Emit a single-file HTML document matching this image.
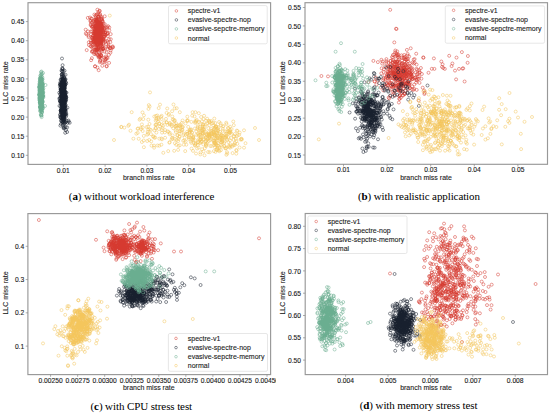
<!DOCTYPE html>
<html><head><meta charset="utf-8"><style>
html,body{margin:0;padding:0;background:#fff;width:550px;height:416px;overflow:hidden}
svg{display:block}
text{font-family:"Liberation Sans",sans-serif;fill:#1a1a1a}
.tl{font-size:6.7px;stroke:#1a1a1a;stroke-width:0.12px}
.al{font-size:7px;stroke:#1a1a1a;stroke-width:0.1px}
.lg{font-size:7px;stroke:#1a1a1a;stroke-width:0.1px}
.cap{font-family:"Liberation Serif",serif;font-size:11px;letter-spacing:-0.1px;fill:#000}
.tk{stroke:#888;stroke-width:0.7}
path{fill:none;stroke:none}
</style></head><body>
<svg width="550" height="416" viewBox="0 0 550 416"><defs><marker id="mr" markerWidth="6" markerHeight="6" refX="3" refY="3" markerUnits="userSpaceOnUse"><circle cx="3" cy="3" r="1.50" fill="none" stroke="#d63a2f" stroke-width="0.70" stroke-opacity="0.72"/></marker><marker id="mk" markerWidth="6" markerHeight="6" refX="3" refY="3" markerUnits="userSpaceOnUse"><circle cx="3" cy="3" r="1.50" fill="none" stroke="#18202e" stroke-width="0.70" stroke-opacity="0.72"/></marker><marker id="mg" markerWidth="6" markerHeight="6" refX="3" refY="3" markerUnits="userSpaceOnUse"><circle cx="3" cy="3" r="1.50" fill="none" stroke="#6aae8f" stroke-width="0.70" stroke-opacity="0.72"/></marker><marker id="my" markerWidth="6" markerHeight="6" refX="3" refY="3" markerUnits="userSpaceOnUse"><circle cx="3" cy="3" r="1.50" fill="none" stroke="#f4c65c" stroke-width="0.70" stroke-opacity="0.72"/></marker></defs>
<rect x="28.00" y="2.70" width="242.60" height="161.70" fill="none" stroke="#989898" stroke-width="1.15"/>
<path d="M98.5 37.0 97.8 25.1 97.4 24.1 98.7 47.4 97.3 27.8 99.7 37.6 98.8 24.7 98.4 41.0 95.1 29.4 93.7 21.1 93.9 31.6 95.3 36.7 98.9 32.1 98.4 35.1 94.7 29.2 96.1 25.9 101.2 25.9 98.4 42.8 97.0 32.9 98.8 34.6 95.4 34.8 101.9 18.5 100.6 35.2 96.9 54.0 100.4 22.0 98.7 39.8 98.0 40.8 98.3 40.7 102.1 27.2 99.0 29.4 98.8 22.1 97.1 32.0 100.7 45.5 95.2 26.1 100.1 14.1 97.3 33.0 101.6 40.9 97.7 30.3 97.9 49.2 97.4 31.0 99.4 32.8 98.0 22.9 98.5 29.6 101.4 40.5 98.4 40.7 97.7 44.5 98.5 39.8 95.3 37.5 97.7 25.0 98.9 56.4 96.4 27.8 99.0 38.9 98.1 31.9 100.3 39.2 95.9 33.2 98.6 23.5 99.1 25.4 100.9 35.9 98.7 28.1 98.2 14.0 95.7 37.6 93.2 42.5 94.1 41.6 96.4 41.8 98.8 18.6 101.6 48.4 98.3 31.3 98.1 24.2 101.2 28.6 98.4 26.1 96.9 21.2 101.6 32.5 100.9 34.1 96.8 30.7 97.1 34.1 97.6 31.0 95.1 25.9 102.6 27.3 95.9 37.4 102.0 19.5 98.0 27.7 94.1 41.3 98.4 34.7 96.6 38.5 97.2 32.6 95.7 21.8 101.8 28.9 99.2 33.7 97.4 28.9 100.1 31.0 98.1 34.2 101.4 40.8 99.5 28.4 95.0 43.5 100.9 32.6 99.9 41.8 100.6 43.2 97.4 49.1 95.4 42.6 99.7 42.7 103.2 48.8 95.6 17.1 100.5 23.8 98.5 42.4 99.1 34.4 97.9 34.4 96.3 18.9 98.1 24.3 94.4 39.1 98.3 38.1 96.0 27.4 96.0 25.1 99.0 26.2 99.4 37.4 100.7 33.1 98.5 19.5 97.3 41.4 98.3 34.8 97.8 45.5 98.4 12.0 96.8 14.3 101.8 34.5 95.6 24.6 101.3 35.6 98.6 33.5 98.6 42.1 99.9 36.2 95.9 39.1 96.8 44.9 95.3 32.6 98.5 20.8 102.8 48.6 97.3 41.7 99.1 33.4 98.7 23.2 97.8 32.2 101.5 37.3 98.5 49.3 97.1 30.1 100.9 43.2 100.2 35.1 99.0 31.5 98.0 34.5 102.3 39.6 98.4 28.2 96.9 50.0 99.8 34.7 97.6 22.9 98.3 42.7 97.5 31.7 97.9 35.1 94.5 31.6 96.4 42.8 96.6 39.8 102.3 30.9 97.0 35.9 98.5 24.1 99.7 54.2 97.9 32.0 95.9 37.2 95.4 22.9 101.7 24.9 101.2 49.2 99.1 39.5 103.4 32.0 97.0 20.5 98.6 48.8 100.9 24.6 96.4 29.0 99.2 31.9 99.0 37.0 97.8 33.6 99.0 33.2 99.8 52.7 100.0 34.6 94.3 37.9 100.6 41.1 98.1 16.9 97.6 27.2 100.1 56.6 99.0 26.2 95.6 33.4 98.1 22.5 98.8 22.5 101.3 44.6 101.2 29.3 99.8 32.7 97.5 30.6 95.3 19.6 100.5 32.1 99.0 44.0 94.2 26.2 98.9 37.9 97.6 44.3 99.0 21.9 96.2 42.1 99.7 15.0 101.9 40.0 101.9 30.2 97.8 22.7 102.5 27.5 98.9 17.3 97.5 43.8 95.4 44.7 99.3 23.6 97.2 29.4 98.4 28.6 96.4 31.0 95.9 21.1 98.4 42.8 94.7 34.0 96.9 24.2 100.6 28.8 102.2 26.2 99.5 31.7 96.6 39.9 98.1 40.0 98.4 23.1 98.2 34.5 100.9 24.9 98.4 16.8 100.1 23.2 94.0 33.4 101.3 18.8 95.8 26.6 95.7 37.8 96.5 26.8 100.0 26.4 99.6 24.3 95.5 15.6 103.2 30.8 99.1 33.7 98.9 34.5 103.3 23.6 94.6 23.9 95.2 41.5 100.6 24.4 95.0 30.5 99.8 23.2 101.1 23.2 97.8 18.9 96.1 47.9 100.6 30.0 96.3 15.1 97.5 33.7 98.3 33.1 95.7 33.3 98.4 46.9 103.2 32.6 96.6 33.4 91.1 60.2 102.3 65.8 104.2 62.3 97.4 49.4 106.6 66.0 101.7 51.5 107.3 33.4 101.7 28.6 94.5 29.8 98.0 41.8 102.0 20.9 103.8 36.5 98.4 47.6 101.7 17.1 86.7 50.1 101.5 39.2 108.1 26.2 100.1 61.1 97.7 33.6 99.8 33.9 109.3 30.4 104.8 24.1 103.5 40.0 91.9 31.4 109.3 27.4 91.9 58.2 99.8 62.2 101.2 28.1 98.6 57.4 105.3 42.0 99.3 38.5 95.1 66.2 99.0 23.9 95.8 49.3 103.3 39.4 94.5 38.9 87.8 17.9 104.3 34.9 101.5 58.1 103.3 41.7 96.6 49.7 101.7 28.7 99.5 37.8 85.9 33.3 97.1 33.2 88.0 31.4 98.7 41.4 91.4 46.5 90.9 34.2 107.7 33.0 95.6 54.2 96.4 34.9 100.5 55.4 92.3 22.4 93.3 26.2 101.0 28.0 99.8 46.0 94.1 40.3 109.9 48.1 94.8 37.7 92.9 41.9 104.7 30.3 97.6 55.3 95.7 41.6 92.2 26.2 96.3 31.8 95.3 36.5 103.3 44.0 112.4 47.3 108.4 46.9 102.9 21.3 98.2 38.8 97.4 9.7 104.7 36.5 96.2 35.5 97.5 45.2 90.7 24.4 100.9 42.6 96.6 31.3 93.6 37.4 106.7 27.8 108.9 54.9 96.1 49.9 90.6 31.6 96.9 32.2 99.6 10.7 102.2 21.4 94.7 32.9 91.5 18.6 92.5 37.7 102.8 49.0 92.5 27.0 93.0 44.3 95.8 28.1 101.2 55.0 101.2 55.3 99.9 57.3 107.1 41.2 108.4 45.3 99.6 27.4 97.1 50.2 90.5 46.2 101.3 44.6 103.2 30.8 103.4 32.2 104.7 16.3 103.5 38.2 104.2 28.9 93.6 28.5 97.2 25.3 106.7 66.4 94.4 14.6 106.6 57.8 104.3 57.7 93.4 35.8 90.0 17.5 105.4 32.8 94.8 49.7 110.7 50.5 91.1 42.6 107.9 36.1 94.0 52.4 99.9 25.0 96.5 28.7 100.9 42.1 106.5 52.2 88.8 42.3 104.8 48.2 105.7 34.6 92.8 50.9 105.7 32.1 97.0 20.0 90.4 21.2 96.7 44.4 91.3 22.8 103.4 40.4 93.4 41.6 100.3 60.0 96.0 53.0 94.2 54.0 94.0 33.4 111.3 48.4 101.3 29.5 103.8 25.2 106.3 59.1 95.3 30.1 100.1 40.6 92.6 45.8 85.7 29.7 96.4 35.4 101.0 23.6 102.8 38.7 94.8 19.7 91.3 42.5 92.7 38.9 105.9 56.5 109.1 39.2 91.9 51.8 101.0 56.2 99.1 56.6 104.5 51.7 102.3 46.6 100.5 43.6 105.4 35.0 110.3 42.2 105.4 40.8 97.4 67.6 97.0 21.7 94.4 34.1 113.0 47.4 105.1 28.1 101.3 50.0 110.7 34.1 102.9 45.5 92.4 37.6 102.9 48.7 96.1 20.6 108.6 46.8 105.6 61.7 95.6 50.1 97.4 38.6 98.4 39.8 106.2 44.1 98.0 35.8 101.2 28.3 95.7 38.2 95.3 37.2 95.0 66.5 107.6 49.0 98.7 70.2 101.1 39.5 101.0 44.9 108.2 42.7 103.5 27.6 110.8 39.2 98.6 52.7 107.2 27.2 96.7 20.0 99.9 38.9 96.7 29.8 96.5 28.9 102.4 62.1 86.5 34.3 96.3 45.9 92.8 36.0 92.2 47.5 99.6 38.0 101.4 37.4 88.9 45.0 100.9 38.5 105.4 58.9 91.9 26.9 109.1 62.9 94.2 22.1 94.9 31.8 88.7 37.1 90.7 20.6 105.0 32.5 98.5 48.6 104.3 37.0 99.3 28.7 110.4 52.7 91.8 37.7 103.6 48.1 95.5 37.6 90.7 40.8 99.6 11.2 94.6 40.1 90.8 25.4 96.6 44.0 97.9 27.3 104.1 34.2 95.8 19.9 93.9 47.4 88.5 35.6 103.7 36.3 100.6 25.0 107.5 58.0 100.5 16.2 92.2 51.3 110.1 47.7 107.1 34.2 97.8 39.6 101.8 19.7 105.1 60.3 91.5 18.8 101.3 31.7 100.0 33.7 112.7 46.4 94.1 39.8" marker-start="url(#mr)" marker-mid="url(#mr)" marker-end="url(#mr)"/>
<path d="M63.4 104.5 63.7 83.0 64.4 87.2 61.4 89.4 62.8 105.9 63.9 96.7 64.4 98.0 64.3 79.5 60.7 106.7 61.0 93.2 62.9 90.9 62.3 114.4 66.3 97.3 63.0 106.1 65.7 82.1 63.1 94.7 63.8 99.0 64.0 91.7 63.1 88.6 62.0 95.2 62.8 82.3 65.3 95.3 61.0 110.8 61.9 103.4 63.0 100.1 63.2 89.8 63.1 122.4 59.8 97.8 63.6 83.8 61.0 124.0 62.5 123.0 63.8 98.0 63.7 104.9 64.7 102.4 63.2 99.2 65.0 107.2 61.5 89.1 63.5 89.2 62.5 85.1 62.6 102.3 64.4 97.1 66.0 96.0 63.7 90.8 63.3 121.0 61.0 120.8 62.6 106.1 59.3 98.7 62.5 105.5 63.1 82.7 64.4 105.7 63.9 109.6 64.6 96.7 61.0 79.7 65.0 105.9 63.1 91.6 63.0 97.3 62.5 88.3 66.1 99.9 62.1 80.7 61.9 106.0 64.1 94.3 63.1 93.2 61.4 113.3 63.5 128.0 61.9 95.3 64.3 93.9 61.0 85.1 63.1 101.3 62.9 109.5 64.4 101.0 63.0 93.8 63.8 108.5 63.1 102.6 62.5 79.4 61.5 106.6 63.6 116.9 63.1 107.8 64.9 109.4 62.1 94.7 63.2 84.7 63.7 109.8 62.3 121.7 62.6 94.5 62.7 88.1 63.6 97.3 65.4 104.6 63.8 94.2 60.9 95.9 61.8 108.9 63.0 117.8 64.1 107.4 63.3 99.6 63.9 108.5 62.0 103.2 62.6 88.3 60.9 111.9 63.1 100.7 61.7 110.2 63.9 102.0 63.7 96.7 65.3 104.7 63.5 112.6 64.3 102.8 63.5 119.0 63.7 95.9 61.8 92.7 61.5 98.4 63.4 71.4 63.0 105.1 63.2 85.1 64.8 88.3 61.2 83.5 63.0 109.3 64.7 99.7 61.3 88.8 61.7 94.8 60.4 98.4 63.9 95.2 63.7 85.3 60.9 89.0 64.7 109.9 62.3 112.1 62.5 115.9 63.7 91.4 64.2 87.3 61.6 78.9 63.4 96.3 62.9 91.9 65.1 91.7 62.0 112.6 65.1 101.2 60.5 89.5 63.9 97.2 65.3 79.9 64.0 89.2 64.9 96.1 64.5 88.9 61.0 83.1 62.1 84.2 64.7 113.7 63.4 84.1 62.8 88.4 65.1 100.9 63.7 92.0 60.1 87.4 61.4 101.6 63.1 87.0 62.4 116.6 61.6 85.5 62.7 88.3 62.4 103.6 65.5 74.8 63.0 97.5 62.9 94.7 62.5 109.6 62.3 95.4 63.0 98.3 62.8 109.5 63.0 99.2 62.9 84.5 61.8 83.9 63.3 88.1 61.5 100.0 63.8 75.0 65.5 97.4 62.8 110.3 63.1 89.5 66.2 83.6 62.9 107.6 61.4 95.7 63.6 127.0 61.7 96.4 64.0 98.0 61.3 102.1 63.2 102.6 64.6 109.7 63.6 100.9 61.4 95.3 63.3 92.0 63.1 86.7 62.4 102.0 62.7 112.8 63.6 98.0 62.7 98.6 61.5 105.4 62.0 103.7 63.2 110.7 63.0 109.8 61.7 104.6 62.7 99.4 63.1 108.7 60.1 101.0 60.8 112.1 60.1 84.5 60.6 117.5 61.1 98.4 62.2 74.5 62.5 105.3 62.7 108.8 62.5 97.1 62.4 101.3 65.8 101.5 63.3 89.3 61.9 115.3 61.4 85.6 62.9 91.7 63.5 105.9 61.4 88.9 63.6 117.4 61.7 77.3 64.4 116.0 62.5 69.3 65.1 94.5 64.6 96.5 62.5 91.4 65.1 114.9 59.9 85.3 65.6 92.4 61.0 97.1 62.8 95.8 62.3 93.1 62.3 101.2 61.8 93.4 62.8 113.3 63.5 95.6 63.8 102.1 64.6 103.3 65.6 113.8 62.9 91.8 64.3 103.5 62.9 78.5 60.3 101.4 64.1 107.0 61.1 110.0 62.2 101.9 63.6 87.0 62.1 71.1 61.7 74.5 63.6 97.8 64.3 101.5 62.1 101.3 62.4 104.6 63.5 84.6 63.0 97.7 62.6 108.2 65.5 92.4 62.5 68.9 62.8 91.5 59.9 100.6 63.9 87.8 62.5 84.9 64.1 78.0 62.5 121.4 63.1 102.8 62.8 82.3 63.0 102.1 61.5 101.3 64.8 110.4 60.7 84.8 60.7 110.4 63.9 105.8 61.7 82.4 63.1 98.3 61.8 98.8 63.9 99.9 61.5 70.6 62.6 99.1 62.6 91.6 62.0 105.9 62.9 98.5 61.6 89.2 63.2 84.4 61.2 92.9 64.7 99.4 65.1 95.4 62.6 79.6 62.2 114.9 63.5 106.2 64.0 96.9 62.7 98.5 64.0 102.7 63.7 98.9 61.9 93.7 61.6 109.6 60.0 94.3 66.5 92.7 61.4 96.8 64.9 95.0 63.9 98.2 63.1 90.3 62.3 101.8 63.6 106.7 63.2 79.1 63.8 93.1 62.6 78.5 62.2 87.9 62.9 78.8 63.1 98.6 61.4 89.2 61.8 108.3 59.3 92.7 60.6 91.6 64.2 89.1 63.2 86.4 65.8 108.4 64.6 80.4 61.4 110.5 62.7 93.8 63.5 81.3 64.1 97.2 63.7 88.6 63.7 88.2 64.4 111.1 64.3 103.5 64.2 93.6 63.1 93.5 61.0 90.3 64.0 114.7 62.1 85.7 65.1 86.0 66.0 97.6 61.7 109.3 65.5 79.1 65.3 93.5 65.2 92.2 60.7 103.3 64.3 123.2 65.5 105.7 62.7 90.5 62.6 86.6 62.6 65.2 63.3 96.6 62.3 104.1 61.2 89.5 60.3 115.0 63.9 82.3 62.9 108.9 63.7 101.8 61.8 89.0 63.1 108.5 61.8 83.0 64.7 85.4 64.6 100.0 64.3 118.8 64.0 106.7 61.7 88.3 63.9 116.2 63.5 99.5 64.5 97.2 62.9 83.9 64.4 83.6 63.7 79.3 64.6 84.1 64.2 77.1 62.4 111.7 61.8 97.8 62.3 68.1 63.4 102.4 61.4 104.2 61.8 84.5 63.0 88.5 64.1 109.4 63.8 91.0 63.6 111.2 62.5 83.7 61.7 100.9 63.3 79.7 65.5 110.5 64.2 82.2 62.4 90.2 62.4 82.9 63.6 99.9 63.5 90.7 64.9 99.3 62.9 109.1 62.6 93.9 62.0 105.3 62.4 89.5 61.9 104.0 62.2 76.1 63.9 88.2 63.5 101.7 64.7 110.1 62.2 94.9 61.1 118.0 63.6 114.4 62.5 71.4 65.2 98.2 63.2 97.7 63.9 103.7 60.7 110.6 62.2 91.2 65.5 108.5 62.5 73.8 63.2 103.7 62.9 81.4 61.9 81.3 63.3 107.2 64.5 87.8 63.3 103.9 62.3 95.1 66.1 99.6 64.3 91.6 63.1 75.6 63.0 111.9 66.0 112.0 64.0 97.7 62.1 95.0 63.9 87.2 64.4 84.7 60.4 84.3 60.6 79.8 64.6 94.5 63.3 111.5 64.8 90.7 64.9 101.8 63.0 102.5 60.9 87.2 62.8 104.6 62.5 95.4 64.4 114.6 64.1 112.9 62.4 93.2 63.5 93.2 62.3 117.7 62.7 84.9 63.7 119.9 63.1 112.4 62.4 90.9 62.0 95.2 65.7 82.6 65.4 84.4 62.7 107.4 63.9 100.5 60.6 101.5 62.7 99.4 61.3 91.0 61.1 109.3 62.6 104.0 62.0 90.7 64.9 84.9 60.4 102.1 61.3 91.5 64.3 86.8 64.3 88.5 65.2 113.6 62.3 94.3 61.8 99.5 64.7 78.9 64.3 80.5 61.8 74.7 66.1 97.7 63.4 88.5 64.5 70.7 63.0 124.6 62.4 97.2 64.0 86.9 63.0 109.0 63.3 101.6 62.5 100.9 63.1 115.2 64.1 94.0 59.5 105.9 64.1 85.5 60.1 82.7 64.3 83.7 62.3 99.8 64.8 96.8 62.9 90.1 65.4 110.3 61.6 120.7 65.4 122.5 61.7 119.5 60.4 125.6 62.1 118.5 63.5 116.7 62.0 109.6 68.7 121.7 65.2 132.8 64.3 123.5 64.6 127.3 65.8 122.1 64.0 121.9 67.4 107.7 64.3 117.7 63.9 108.3 66.3 115.1 64.0 117.2 60.6 117.5 60.2 114.5 63.8 120.2 64.7 119.4 69.7 122.8 61.6 116.5 63.0 119.1 63.1 115.1 68.5 120.5 63.8 118.7 64.1 128.6 65.7 126.9 67.1 132.0 64.7 109.9 66.0 116.6 60.3 116.5 67.1 127.4 66.3 113.9 64.4 111.5 67.7 122.9 66.7 120.8 64.4 121.3 62.0 58.5 66.0 130.0" marker-start="url(#mk)" marker-mid="url(#mk)" marker-end="url(#mk)"/>
<path d="M40.9 86.1 41.2 95.9 42.2 102.8 41.4 97.5 41.4 96.3 41.1 98.2 42.3 84.8 41.6 103.4 40.9 77.1 40.9 83.8 41.9 87.1 43.0 96.6 40.5 90.4 40.2 98.9 42.7 93.2 42.2 86.3 41.6 117.1 39.9 106.9 42.4 77.4 39.9 86.0 42.2 91.2 41.1 102.0 41.4 97.4 41.0 105.9 40.5 111.1 41.0 87.6 41.9 99.5 39.4 97.3 40.0 87.3 42.0 87.0 41.6 91.6 43.1 94.3 40.2 84.7 40.4 96.4 41.3 104.4 41.4 96.4 41.6 93.9 41.5 102.6 42.0 90.0 39.6 87.4 41.5 71.5 40.8 99.4 40.7 84.5 42.9 108.2 41.0 107.6 42.5 84.3 41.0 84.6 41.3 82.6 41.2 105.3 41.5 92.5 42.7 86.5 42.2 92.1 41.5 95.3 41.4 94.5 40.5 89.6 41.7 93.9 40.1 88.3 40.6 94.4 41.4 95.8 40.6 95.1 41.2 79.2 40.3 83.4 41.8 83.4 41.5 90.2 40.1 79.8 41.7 98.4 42.0 112.2 41.5 97.4 41.1 95.7 40.9 86.2 41.5 98.9 41.4 85.5 41.0 90.2 40.2 94.2 40.8 89.3 41.9 84.5 41.6 88.7 41.6 95.2 41.4 85.2 40.5 86.4 41.4 101.6 42.2 89.7 41.3 79.1 39.1 86.2 40.6 79.7 39.5 99.5 40.4 78.5 43.4 96.0 40.9 100.8 40.5 109.4 39.7 81.9 41.1 87.1 42.5 79.1 40.5 96.5 41.7 103.7 41.5 115.1 40.7 95.9 42.0 91.2 40.9 89.8 40.6 83.5 40.6 79.5 41.5 79.1 42.2 92.1 40.6 105.7 41.3 99.4 40.5 104.2 40.4 95.1 39.5 87.9 41.6 89.8 40.7 101.5 41.1 105.8 41.6 79.4 39.9 102.3 40.1 88.0 41.7 90.9 41.6 85.8 41.4 104.2 41.5 73.2 41.8 94.5 40.3 107.2 40.6 108.9 41.1 81.4 41.2 97.1 41.7 104.0 40.3 98.6 41.8 91.4 40.3 84.9 41.9 101.5 40.4 81.3 42.3 79.3 41.3 86.4 39.5 95.1 41.0 107.6 43.3 92.2 42.1 103.9 40.7 85.8 42.7 90.5 41.1 91.2 41.0 88.3 41.9 105.8 40.8 80.9 41.2 79.9 40.5 105.6 43.3 97.5 40.1 101.3 39.0 87.4 42.6 101.0 39.8 78.2 42.0 93.5 40.6 97.9 40.6 75.8 41.9 87.8 40.2 81.4 41.4 86.4 41.7 91.4 42.2 90.3 40.5 75.4 40.1 100.8 40.2 97.2 41.6 87.6 41.2 78.8 40.9 102.5 42.7 92.4 40.9 98.3 42.2 98.6 40.4 97.3 42.1 87.2 39.9 98.8 41.5 103.1 41.2 87.9 40.7 84.3 40.3 88.7 40.7 104.5 40.0 93.6 40.6 108.1 41.4 90.5 41.9 94.7 40.7 108.5 41.8 110.4 42.2 101.4 41.3 83.8 41.8 94.7 41.8 94.0 40.5 84.6 41.8 106.3 40.9 98.4 42.5 86.2 40.8 83.5 42.3 96.6 40.7 78.5 41.0 103.5 40.9 90.1 41.8 82.5 41.2 99.8 40.4 86.3 41.4 93.2 40.9 96.1 41.4 85.4 40.5 98.4 42.2 106.9 40.4 104.5 41.9 93.9 41.6 102.0 42.9 84.2 41.7 92.9 41.0 105.0 41.9 84.6 40.9 96.3 39.8 102.3 41.1 95.7 41.5 111.2 41.2 90.8 42.8 89.5 40.7 81.2 42.2 96.8 41.6 95.8 41.0 86.8 40.4 98.3 41.3 109.6 40.5 89.6 40.2 107.2 40.0 101.5 42.5 92.9 41.9 74.2 40.8 78.7 41.3 94.3 40.5 103.1 41.5 89.3 40.7 80.4 41.0 114.2 40.5 98.2 40.7 101.8 41.6 92.1 39.5 89.4 42.3 92.0 41.8 89.7 39.4 98.3 41.5 88.8 40.8 97.0 40.6 97.5 41.0 72.1 41.0 88.7 40.4 98.1 40.7 99.3 42.2 95.6 39.7 87.4 42.0 91.9 40.4 93.4 41.7 96.7 41.8 86.5 40.9 91.9 41.2 74.6 41.0 81.7 42.5 108.9 42.8 101.9 40.7 103.3 41.0 100.1 40.3 88.8 41.6 111.0 41.2 115.5 41.2 85.4 41.1 89.3 41.1 103.4 42.1 96.8 41.2 95.5 41.3 99.7 41.2 99.1 40.0 101.8 42.8 96.1 39.9 107.0 41.0 100.1 41.5 106.0 41.8 95.5 39.3 83.9 41.4 100.7 40.2 88.6 41.6 76.4 39.4 92.2 41.4 89.9 39.0 94.6 39.9 100.5 41.1 96.9 41.8 89.4 42.0 106.1 41.6 106.9 40.6 103.0 41.4 85.1 41.1 89.4 40.7 95.2 42.2 91.4 41.3 80.6 41.3 105.2 42.0 98.9 40.7 85.2 41.1 81.8 40.0 103.3 40.3 111.3 39.8 98.4 40.1 96.0 40.2 94.8 41.0 90.1 41.7 108.6 40.6 102.7 41.3 94.1 40.5 77.4 40.9 92.2 42.9 106.6 40.8 98.9 42.8 96.0 41.4 99.1 39.8 86.7 41.5 99.5 40.3 91.3 41.1 93.0 41.8 95.4 41.3 81.1 40.2 97.4 39.7 96.9 40.6 86.7 41.8 88.0 40.4 88.0 39.2 94.2 41.0 103.3 42.4 84.0 41.1 81.4 40.1 89.6 42.0 102.2 40.6 99.0 40.8 95.3 41.3 100.1 40.6 93.0 41.4 95.1 40.4 110.5 40.7 101.4 41.4 105.8 41.0 82.6 41.3 115.5 41.7 82.6 40.7 106.8 39.8 92.5 40.9 114.7 40.9 106.6 40.5 86.6 42.1 100.1 39.5 100.3 41.8 88.4 41.4 96.7 40.7 88.7 40.5 91.6 39.9 93.8 39.8 94.9 41.1 84.4 42.0 112.5 42.4 81.3 42.4 96.2 41.1 88.6 41.2 107.3 41.7 90.3 40.5 90.3 41.7 111.8 40.2 94.2 40.8 87.1 41.5 99.4 39.8 84.4 42.3 97.2 41.7 89.5 40.8 98.5 40.7 83.7 41.2 102.7 40.2 104.1 41.8 86.1 41.2 93.8 41.8 100.4 39.9 81.5 42.1 95.2 41.6 97.3 42.6 82.8 42.2 86.5 41.9 106.8 39.9 98.0 40.9 91.4 41.2 84.3 40.3 100.4 42.0 88.8 42.2 97.6 40.2 88.7 41.4 85.2 42.7 95.5 41.5 84.5 40.3 86.8 41.4 91.7 40.9 97.1 41.4 108.1 41.0 84.7 41.2 107.9 40.6 94.6 40.8 98.0 41.4 86.6 41.0 103.0 42.2 102.8 42.0 91.1 40.8 102.9 40.1 93.6 39.4 90.6 40.5 82.9 41.7 87.3 40.8 91.8 40.5 107.5 40.7 96.0 39.9 89.8 40.9 91.3 40.6 95.5 42.6 93.0 41.0 90.6 41.7 100.8 40.5 92.8 41.4 95.3 40.4 86.9 41.7 97.1 39.2 95.1 42.4 88.2 41.4 80.6 41.9 83.8 40.0 91.3 43.4 88.5 40.0 98.5 41.4 109.7 40.0 79.4 40.9 97.7 41.5 104.3 39.8 86.5 41.0 102.0 41.6 90.3 40.2 102.4 41.0 109.3 40.0 89.2 40.5 89.9 40.4 89.2 41.1 90.0 41.8 93.4 41.2 107.9 41.5 95.7 41.2 94.8 41.7 86.8 42.2 108.8 42.2 89.6 39.7 90.2 41.3 101.9 41.0 91.4 42.6 88.0 45.5 85.0 45.0 106.0 43.0 73.0" marker-start="url(#mg)" marker-mid="url(#mg)" marker-end="url(#mg)"/>
<path d="M226.7 135.8 221.5 142.6 216.0 126.6 192.1 132.8 213.2 125.4 193.3 140.4 229.0 132.8 199.6 128.8 210.3 146.0 187.1 133.8 204.5 132.8 190.7 131.2 192.9 138.2 212.1 123.4 182.3 129.6 222.4 142.2 202.9 128.9 205.6 124.6 204.0 129.7 208.0 135.8 209.3 138.2 204.4 135.8 228.8 145.9 216.6 149.6 215.1 127.6 181.5 127.5 210.2 140.2 229.7 132.7 197.6 142.7 231.4 133.7 217.1 150.0 216.8 136.5 222.3 138.7 203.4 124.2 209.6 135.4 230.0 126.7 235.9 139.0 231.6 129.1 217.2 148.6 213.3 122.9 205.7 141.1 187.5 121.0 215.3 128.0 222.9 126.5 180.0 126.6 236.8 130.6 211.2 138.9 195.1 145.5 214.3 141.0 207.4 143.1 236.6 136.3 206.8 140.4 237.4 131.0 222.0 135.2 205.7 143.8 197.9 125.4 222.7 137.3 206.9 135.0 219.8 133.8 224.4 141.6 236.6 150.6 226.0 135.9 213.4 131.2 220.9 150.2 188.2 126.9 204.7 126.7 189.8 130.0 233.4 145.3 212.0 137.0 183.2 140.8 218.7 127.1 215.0 135.1 202.6 126.6 200.0 126.8 219.3 140.7 217.0 135.4 204.5 155.3 179.8 145.3 217.5 137.8 202.8 133.9 191.3 121.9 209.6 121.0 225.8 148.3 216.1 139.1 213.4 140.8 224.2 145.9 241.9 139.5 226.2 122.7 209.3 125.1 220.8 125.3 209.6 136.8 214.9 147.2 234.8 134.0 202.1 149.2 207.0 123.5 189.1 135.4 227.0 152.1 208.7 132.1 239.2 134.8 236.4 141.0 215.6 134.9 216.7 132.8 200.1 134.5 200.6 138.7 213.1 134.4 208.2 134.3 241.2 139.1 201.5 133.1 222.9 135.8 209.0 134.1 214.4 140.7 219.1 122.0 225.2 148.3 233.7 139.9 231.1 138.0 209.5 122.1 198.3 130.1 227.2 153.6 203.6 139.6 216.3 129.9 182.3 127.2 187.2 131.7 209.2 134.8 208.7 141.0 195.7 143.7 183.2 134.9 218.2 129.8 184.5 140.4 200.1 143.1 224.6 137.7 211.5 146.0 217.9 128.5 214.4 142.1 215.0 138.8 209.0 135.4 195.7 122.0 230.6 132.3 215.3 123.0 214.2 129.2 195.2 144.1 215.8 145.3 190.8 141.4 202.6 126.6 205.6 131.9 203.8 129.1 225.9 137.2 234.0 136.1 217.4 138.1 214.3 135.0 209.7 152.2 200.0 130.6 205.7 141.5 218.3 146.0 188.9 137.2 208.5 133.8 214.3 118.6 216.1 138.4 187.4 133.8 237.6 135.3 221.5 135.4 197.8 127.0 204.8 148.2 225.3 131.3 228.3 136.9 199.9 139.7 196.2 120.8 233.3 121.5 220.6 123.3 211.0 134.8 204.1 115.8 209.7 136.2 196.4 134.8 228.2 131.4 215.9 126.4 218.0 143.2 218.8 150.4 194.9 145.3 202.4 130.2 230.0 140.4 233.8 125.2 216.2 132.3 207.1 118.7 227.3 140.0 195.1 122.9 197.1 148.5 210.0 133.6 219.9 137.6 215.6 144.0 217.2 145.4 191.8 135.7 205.8 137.3 211.1 130.9 205.9 145.1 202.6 124.6 221.7 146.7 207.3 137.7 197.9 133.9 230.3 145.9 214.4 134.6 184.7 137.6 219.6 147.3 245.5 143.2 227.9 128.0 232.0 146.6 234.7 145.1 219.5 151.2 201.0 142.0 230.0 131.3 192.9 139.4 214.1 142.8 222.8 130.9 217.7 147.9 206.2 134.0 193.4 143.0 224.8 146.4 202.9 132.9 194.9 128.5 215.0 143.3 214.2 145.1 215.6 126.7 236.3 150.0 200.5 152.4 220.1 139.1 185.7 141.5 208.3 128.2 237.3 143.8 191.2 129.4 226.4 154.8 179.2 136.8 206.1 120.7 209.7 122.4 203.6 151.4 221.0 145.2 222.4 141.4 228.6 128.0 206.5 144.6 200.5 132.3 232.6 153.1 202.5 129.1 222.3 140.7 201.4 141.9 221.8 138.9 226.2 147.9 200.7 139.4 213.9 132.3 217.0 140.1 211.8 132.9 226.5 124.0 226.4 138.7 198.3 142.2 202.6 132.9 175.6 130.3 216.3 144.0 208.0 139.1 220.0 131.9 200.3 154.4 198.6 147.6 213.9 151.1 202.1 141.3 218.3 135.9 217.9 130.8 211.4 133.7 225.4 137.7 189.6 132.1 211.1 129.0 234.9 143.1 226.8 131.6 206.1 146.2 188.9 138.9 214.3 133.0 214.3 127.7 216.5 126.6 191.5 148.6 201.1 117.0 229.0 131.7 228.3 142.0 241.5 138.7 222.8 129.0 215.5 151.9 221.2 139.7 179.8 131.3 191.3 142.9 200.4 139.8 196.0 153.5 193.2 137.1 198.2 142.0 229.4 146.9 179.8 136.7 214.0 133.3 224.1 143.0 193.0 150.9 208.7 120.9 236.3 153.7 233.9 144.4 197.9 145.0 244.0 147.7 239.7 132.6 230.0 147.7 187.8 120.3 200.8 137.3 220.5 136.1 211.8 136.4 214.4 143.1 221.2 137.8 217.2 133.7 226.3 134.0 240.5 139.7 217.5 130.9 207.1 138.6 213.2 131.8 193.3 136.3 215.5 142.9 233.9 136.4 179.2 133.4 181.8 123.0 230.3 144.3 202.0 130.7 211.4 121.1 221.0 135.0 244.0 130.3 229.9 132.7 230.2 129.9 225.3 134.5 199.0 135.0 221.0 142.1 239.6 147.5 179.2 131.2 223.5 126.0 193.0 137.3 208.1 152.0 197.3 128.8 178.1 149.9 158.9 129.0 176.1 125.8 195.1 140.1 189.4 130.4 159.2 123.8 158.7 108.1 175.0 138.9 166.7 122.5 167.7 131.3 174.2 150.8 147.7 131.9 182.3 130.3 161.6 115.8 153.6 136.4 199.3 122.3 177.4 135.4 189.4 132.7 176.7 139.9 140.9 127.7 148.5 108.9 178.1 141.1 160.0 126.5 161.6 125.0 169.8 132.9 156.5 118.4 155.2 137.5 157.5 145.5 161.4 144.7 140.3 118.7 177.4 134.9 163.3 152.8 168.4 132.0 154.1 147.7 185.8 134.5 130.5 130.8 156.4 132.6 187.0 120.6 171.6 139.3 170.3 124.7 143.3 119.1 138.7 138.8 169.0 114.0 166.6 112.9 192.6 112.2 150.9 130.0 158.2 117.7 155.4 124.9 154.5 130.3 161.6 119.0 167.2 108.5 164.8 132.4 175.8 132.0 194.5 116.4 165.1 130.1 155.7 120.7 195.0 121.4 156.1 124.5 161.9 130.0 162.0 132.6 169.6 134.2 196.7 119.9 202.9 125.0 181.2 131.0 160.0 104.6 202.0 121.2 149.2 140.0 168.2 151.1 203.5 138.8 172.1 137.7 137.6 128.8 169.8 122.9 172.1 111.2 186.3 144.7 138.1 128.5 200.4 135.1 143.9 115.3 185.2 151.1 142.7 127.4 149.5 124.0 173.2 128.2 163.0 125.9 190.7 129.7 162.0 139.3 143.8 135.9 188.9 137.3 162.5 128.0 129.0 124.7 172.7 138.9 169.5 123.8 148.1 126.7 169.4 142.7 166.6 122.3 164.1 122.4 131.7 112.2 176.6 127.9 169.6 142.2 143.7 140.5 174.8 120.3 198.8 113.2 141.9 124.4 175.2 126.5 196.3 131.3 142.7 131.0 141.0 129.2 174.3 123.9 171.8 124.6 154.0 145.6 179.0 125.3 149.7 129.4 178.7 138.9 198.4 135.4 191.6 139.4 195.4 112.2 158.2 121.7 192.2 115.7 159.3 145.7 180.4 124.4 176.1 126.0 177.4 125.5 148.2 129.7 137.7 132.9 159.4 138.7 156.6 119.7 174.9 143.2 121.3 127.1 179.8 112.2 147.2 134.7 148.3 119.7 203.5 119.1 142.5 112.4 203.4 144.5 182.9 126.9 183.8 133.6 149.6 106.5 146.5 127.0 158.5 119.0 187.3 116.7 185.5 123.5 168.6 115.1 166.0 118.9 128.3 125.8 165.1 137.8 172.3 116.5 141.9 142.0 199.0 138.9 172.7 135.4 176.7 108.2 147.2 141.0 191.8 132.3 159.4 123.2 154.3 116.5 124.3 127.6 156.3 125.0 203.4 137.1 150.9 134.1 133.4 138.7 171.8 126.1 178.5 145.9 156.0 115.9 212.1 130.8 198.6 121.9 174.3 120.9 179.9 125.6 151.5 145.6 173.5 104.5 161.0 116.9 139.6 119.7 155.7 127.9 148.8 105.1 154.4 137.8 136.3 133.7 176.1 123.3 172.8 119.5 157.3 115.5 176.2 144.8 151.2 141.4 143.9 147.2 153.1 136.6 121.3 126.9 178.4 128.3 183.8 144.7 174.7 108.4 161.4 138.5 148.1 133.7 155.5 128.5 182.6 120.5 173.5 119.6 167.4 124.9 150.0 92.4 109.8 15.6 114.0 140.0 255.0 128.0 259.0 140.0" marker-start="url(#my)" marker-mid="url(#my)" marker-end="url(#my)"/>
<line x1="63.30" y1="164.40" x2="63.30" y2="166.60" class="tk"/>
<text x="63.30" y="172.50" class="tl" text-anchor="middle">0.01</text>
<line x1="105.10" y1="164.40" x2="105.10" y2="166.60" class="tk"/>
<text x="105.10" y="172.50" class="tl" text-anchor="middle">0.02</text>
<line x1="146.90" y1="164.40" x2="146.90" y2="166.60" class="tk"/>
<text x="146.90" y="172.50" class="tl" text-anchor="middle">0.03</text>
<line x1="188.70" y1="164.40" x2="188.70" y2="166.60" class="tk"/>
<text x="188.70" y="172.50" class="tl" text-anchor="middle">0.04</text>
<line x1="230.50" y1="164.40" x2="230.50" y2="166.60" class="tk"/>
<text x="230.50" y="172.50" class="tl" text-anchor="middle">0.05</text>
<line x1="25.80" y1="155.30" x2="28.00" y2="155.30" class="tk"/>
<text x="24.20" y="157.90" class="tl" text-anchor="end">0.10</text>
<line x1="25.80" y1="136.20" x2="28.00" y2="136.20" class="tk"/>
<text x="24.20" y="138.80" class="tl" text-anchor="end">0.15</text>
<line x1="25.80" y1="117.10" x2="28.00" y2="117.10" class="tk"/>
<text x="24.20" y="119.70" class="tl" text-anchor="end">0.20</text>
<line x1="25.80" y1="98.00" x2="28.00" y2="98.00" class="tk"/>
<text x="24.20" y="100.60" class="tl" text-anchor="end">0.25</text>
<line x1="25.80" y1="78.90" x2="28.00" y2="78.90" class="tk"/>
<text x="24.20" y="81.50" class="tl" text-anchor="end">0.30</text>
<line x1="25.80" y1="59.80" x2="28.00" y2="59.80" class="tk"/>
<text x="24.20" y="62.40" class="tl" text-anchor="end">0.35</text>
<line x1="25.80" y1="40.70" x2="28.00" y2="40.70" class="tk"/>
<text x="24.20" y="43.30" class="tl" text-anchor="end">0.40</text>
<line x1="25.80" y1="21.60" x2="28.00" y2="21.60" class="tk"/>
<text x="24.20" y="24.20" class="tl" text-anchor="end">0.45</text>
<rect x="168.50" y="5.60" width="98.70" height="38.20" rx="1.5" fill="#fff" fill-opacity="0.8" stroke="#dcdcdc" stroke-width="0.7"/>
<circle cx="176.40" cy="10.90" r="1.3" fill="none" stroke="#d63a2f" stroke-width="0.6" stroke-opacity="0.8"/>
<text x="187.80" y="13.40" class="lg">spectre-v1</text>
<circle cx="176.40" cy="19.90" r="1.3" fill="none" stroke="#18202e" stroke-width="0.6" stroke-opacity="0.8"/>
<text x="187.80" y="22.40" class="lg">evasive-spectre-nop</text>
<circle cx="176.40" cy="28.90" r="1.3" fill="none" stroke="#6aae8f" stroke-width="0.6" stroke-opacity="0.8"/>
<text x="187.80" y="31.40" class="lg">evasive-sepctre-memory</text>
<circle cx="176.40" cy="38.00" r="1.3" fill="none" stroke="#f4c65c" stroke-width="0.6" stroke-opacity="0.8"/>
<text x="187.80" y="40.50" class="lg">normal</text>
<text x="148.8" y="179.5" class="al" text-anchor="middle">branch miss rate</text>
<text transform="translate(7.9,83) rotate(-90)" class="al" text-anchor="middle">LLC miss rate</text>
<text x="141.6" y="199.5" class="cap" text-anchor="middle">(<tspan font-weight="bold">a</tspan>) without workload interference</text>
<rect x="305.00" y="2.70" width="242.50" height="161.60" fill="none" stroke="#989898" stroke-width="1.15"/>
<path d="M402.8 95.5 393.7 71.8 405.8 86.0 394.1 63.9 391.1 83.3 407.6 53.9 381.4 59.8 386.9 76.2 401.7 92.8 406.7 75.7 410.0 66.3 387.8 72.7 407.9 59.1 407.5 82.9 395.5 74.9 397.4 74.3 406.8 66.8 408.8 83.1 407.6 55.7 383.7 78.6 394.8 66.6 393.2 60.1 397.3 66.6 394.1 77.7 389.6 83.4 388.1 78.1 407.7 74.6 406.2 73.4 384.6 75.4 409.7 69.6 385.1 66.3 402.6 77.0 409.4 80.2 404.2 55.0 419.1 76.4 407.3 71.3 398.5 74.2 413.4 89.9 405.2 93.5 396.4 78.4 395.9 85.8 400.2 83.3 418.7 79.0 397.1 55.0 397.2 51.4 400.6 72.3 415.7 72.5 409.2 86.2 417.8 73.5 406.5 59.9 390.3 70.2 399.7 62.1 396.3 80.3 395.9 72.0 392.2 86.4 415.4 77.6 398.9 89.9 404.1 67.9 388.2 66.9 419.1 70.3 398.1 86.5 397.8 77.4 390.9 60.9 393.5 75.4 394.2 54.3 404.1 72.8 397.5 67.7 395.8 78.6 412.1 86.3 401.7 74.3 402.6 83.1 405.0 70.2 403.9 78.1 406.0 76.6 411.9 77.3 407.7 75.3 395.0 64.2 398.6 79.0 411.0 74.4 395.5 68.5 411.2 76.3 395.6 80.7 388.5 73.8 399.6 72.6 389.9 82.4 414.7 62.8 401.0 80.4 419.7 72.2 391.7 73.0 417.5 76.6 402.3 91.5 407.9 82.4 387.9 77.7 400.4 76.1 393.0 68.8 392.4 73.6 398.0 90.1 405.5 59.4 403.6 88.3 402.5 84.8 399.7 80.8 391.8 80.7 388.0 85.2 404.6 72.8 401.0 78.3 399.8 65.4 401.8 77.6 404.3 93.7 393.6 73.9 404.9 70.2 389.6 67.3 409.3 72.4 405.3 67.5 403.9 67.9 392.7 74.3 400.5 88.3 385.8 77.4 414.1 88.8 396.7 67.0 395.7 76.4 401.7 77.6 405.2 64.2 390.2 61.0 388.3 71.7 404.7 74.7 412.4 68.3 403.0 83.8 406.9 78.7 397.0 61.6 398.7 68.1 406.0 73.3 404.9 58.9 408.5 66.7 386.4 59.1 394.5 84.3 406.2 63.3 400.8 73.1 386.3 62.9 382.2 63.6 391.8 65.4 392.8 84.4 397.0 76.0 406.6 83.5 405.9 69.3 390.4 65.4 395.9 73.6 399.3 84.5 399.1 91.2 409.0 70.3 412.0 79.3 403.5 58.1 421.9 74.0 398.8 84.7 398.3 65.6 405.7 64.8 406.5 76.1 409.8 63.4 410.8 78.0 417.2 69.6 416.1 82.6 406.9 67.7 404.9 81.0 392.8 62.0 393.3 87.4 401.4 83.2 402.5 75.4 401.9 70.2 410.6 76.9 402.0 60.8 402.7 67.8 395.6 83.5 390.5 71.0 405.5 85.7 395.5 76.6 402.5 63.4 405.2 75.6 388.4 66.5 396.5 70.1 399.7 95.3 393.2 74.6 393.3 67.2 392.3 70.9 395.2 76.8 401.8 65.6 416.6 64.6 403.1 95.3 393.8 86.1 412.3 78.6 383.9 85.9 400.8 68.8 411.1 68.2 409.2 69.7 404.6 64.1 396.6 64.8 393.8 75.1 398.5 75.6 411.1 74.1 383.8 69.4 400.7 83.9 409.0 84.2 398.0 80.0 387.5 85.1 403.8 79.3 396.7 74.2 394.2 78.8 388.5 82.1 404.7 94.1 399.7 73.1 401.7 74.5 399.1 63.2 390.4 67.5 397.5 62.3 389.9 70.1 406.4 72.9 405.9 84.0 406.7 70.7 396.5 55.6 394.1 77.9 390.6 86.0 412.4 71.8 408.0 61.2 390.9 69.4 400.1 72.2 392.5 92.1 402.5 77.0 405.9 76.4 398.0 68.4 385.8 86.8 392.0 57.1 393.0 57.8 417.3 79.5 412.2 89.4 404.9 80.1 393.7 72.5 394.8 73.8 393.9 85.5 406.6 73.7 385.5 79.0 407.7 74.2 389.1 77.0 409.1 56.5 404.9 57.0 400.7 90.9 400.8 78.7 397.2 73.6 397.3 70.0 400.2 95.2 401.8 84.9 396.8 61.4 411.5 74.5 393.2 66.6 394.2 67.5 386.7 84.1 403.3 83.8 397.0 77.0 401.4 85.5 407.1 78.2 394.4 61.8 393.1 67.1 395.3 61.6 414.4 78.2 382.6 61.5 388.4 75.0 409.2 65.5 405.4 71.9 409.9 88.2 402.7 81.2 400.0 70.4 390.0 76.0 399.4 70.2 387.2 71.4 383.1 80.1 404.1 69.0 392.9 55.0 390.7 89.4 396.6 89.8 390.2 73.0 395.3 70.8 410.7 48.3 410.3 82.7 401.1 75.0 398.3 82.7 401.8 63.4 402.9 86.0 405.7 74.4 403.6 67.8 395.3 50.5 398.7 86.3 396.2 62.7 412.2 76.1 402.8 79.9 409.8 73.5 390.7 95.7 401.7 64.4 403.3 88.9 383.4 90.4 399.3 98.9 409.3 72.7 416.7 89.9 396.7 76.9 394.6 85.5 383.6 71.9 374.6 81.4 373.4 60.9 404.3 69.7 395.5 62.1 395.2 52.3 405.1 84.0 410.5 73.6 416.2 79.8 412.9 78.9 401.5 64.6 368.4 82.0 399.6 98.7 376.5 84.5 389.3 74.0 390.1 78.4 400.7 84.9 402.9 80.0 416.9 80.5 399.4 89.4 399.7 79.1 397.1 65.9 386.8 83.2 423.4 57.8 411.9 72.9 406.7 59.3 401.5 76.0 418.8 100.6 405.0 69.6 428.5 72.8 400.4 75.4 406.9 82.9 394.0 72.8 424.4 94.0 406.7 77.5 398.3 86.8 394.8 75.7 395.5 66.5 401.7 74.2 394.0 73.4 402.0 68.4 393.1 72.5 409.9 87.9 403.5 70.9 400.8 97.8 412.5 62.5 400.6 67.7 396.7 53.4 401.6 57.4 393.9 93.0 413.6 63.5 388.4 63.0 377.9 62.1 397.9 61.3 410.6 73.6 394.7 95.9 410.0 75.1 424.1 90.5 392.5 78.2 395.8 56.5 424.7 92.8 385.5 80.3 380.9 87.5 400.6 70.6 416.8 74.4 398.0 85.6 397.5 85.1 401.3 84.5 409.0 84.1 388.7 97.6 399.2 96.1 393.8 70.8 398.0 88.6 395.9 79.4 381.7 68.3 404.0 72.9 377.9 80.5 389.2 98.4 398.9 102.5 409.5 80.0 395.3 72.8 406.9 49.9 413.7 59.6 406.9 83.6 404.8 78.3 396.6 76.2 416.4 68.9 407.5 83.4 398.3 77.2 404.0 68.0 431.8 68.8 422.7 87.7 375.7 77.4 414.2 84.5 389.9 77.5 386.2 61.2 398.2 76.6 421.4 78.7 414.6 59.1 386.7 68.1 423.3 57.4 381.3 73.3 416.2 53.7 398.0 57.1 419.5 82.9 404.7 73.6 398.2 75.9 393.0 63.0 387.2 74.3 391.1 85.2 374.6 81.4 407.9 89.5 398.0 55.2 389.5 88.5 397.3 68.9 393.8 73.3 398.3 54.5 393.6 86.9 419.5 72.6 394.6 91.3 398.9 59.3 399.5 82.9 420.9 68.0 408.0 70.0 415.6 77.4 404.4 61.7 397.1 70.0 401.0 71.5 396.6 74.4 404.2 57.6 402.7 75.6 401.5 55.3 399.3 57.9 405.5 90.8 412.1 69.8 394.3 66.9 405.5 65.7 394.3 42.4 390.4 64.2 462.5 68.6 455.0 70.6 451.6 66.1 467.9 56.0 433.9 58.4 467.6 62.8 441.3 61.5 456.1 79.4 449.2 55.8 464.6 81.5 456.5 57.6 444.8 68.9 452.4 63.5 434.4 68.9 442.0 66.9 443.2 68.0 463.2 68.3 461.9 52.1 459.0 68.9 442.6 64.3 390.2 9.8 396.5 29.0 396.0 28.7 321.4 76.0 328.0 76.4" marker-start="url(#mr)" marker-mid="url(#mr)" marker-end="url(#mr)"/>
<path d="M366.2 113.1 380.6 106.7 367.4 103.7 371.1 99.7 371.6 119.9 364.3 102.7 360.0 110.9 362.2 104.6 366.4 104.6 374.0 128.6 356.2 101.7 370.5 101.7 365.7 113.5 377.3 125.0 367.2 112.9 366.8 109.8 361.9 93.1 366.8 121.3 373.5 94.1 367.8 105.5 370.7 101.3 374.4 110.8 372.4 121.2 357.3 107.8 378.0 113.7 375.2 117.2 366.0 114.2 375.3 125.8 377.7 102.4 373.9 99.1 368.2 109.7 372.7 115.7 376.5 107.1 374.0 116.7 369.0 100.0 372.4 115.7 373.7 112.4 367.4 115.6 371.7 119.3 380.3 107.7 374.7 104.8 381.0 105.1 375.3 103.2 362.2 118.8 374.2 105.9 383.4 111.2 378.3 103.5 363.2 111.9 362.9 115.5 356.1 111.6 365.6 101.9 370.2 110.0 366.3 119.6 370.8 116.0 376.9 112.6 374.0 108.7 372.6 117.8 365.7 96.4 361.3 101.4 372.3 111.2 367.2 116.4 373.3 126.5 365.4 116.8 373.2 103.3 369.7 103.0 367.6 115.9 358.8 101.6 364.2 112.1 364.6 114.9 363.9 106.0 372.6 115.7 369.9 111.7 375.0 126.6 366.8 104.4 362.8 128.1 363.6 98.0 370.6 122.6 361.6 109.5 360.4 103.7 378.7 115.3 367.4 112.4 370.7 111.2 361.9 99.1 381.0 106.4 376.1 106.1 376.7 120.2 367.7 131.6 363.4 108.7 363.9 103.4 366.8 102.2 367.0 127.3 358.6 97.8 363.3 106.4 375.0 120.1 371.8 114.5 362.1 110.6 370.2 109.8 364.0 98.2 367.3 104.7 366.1 100.8 377.0 117.8 380.0 108.7 369.3 109.6 369.1 109.5 368.0 92.3 367.4 118.6 357.4 106.6 372.4 125.1 368.5 116.4 379.4 126.5 366.3 105.6 375.1 115.2 365.8 109.2 370.9 110.3 367.5 109.4 360.1 127.7 376.3 128.2 368.2 113.1 372.4 120.7 358.1 113.7 363.0 110.3 365.0 128.2 372.2 112.3 377.3 112.7 364.7 109.4 366.8 112.1 374.0 111.7 368.6 121.9 370.7 121.6 369.8 99.3 362.3 94.5 375.8 117.2 366.2 101.7 371.1 111.0 370.9 104.0 362.4 126.4 363.3 110.8 377.0 95.2 373.2 113.4 368.1 114.5 361.9 88.9 380.2 111.0 374.3 123.8 370.7 116.8 373.2 128.2 371.9 124.9 367.3 107.5 369.5 116.0 372.2 131.7 374.0 113.5 380.8 117.2 371.1 117.2 367.0 100.9 369.8 109.1 363.9 112.3 367.8 106.0 358.5 108.6 379.4 122.5 375.4 112.9 375.3 106.4 366.3 116.7 360.6 111.2 370.8 128.9 364.9 115.5 365.1 106.0 375.8 118.3 370.0 136.4 372.2 100.4 367.8 111.3 378.6 104.8 371.5 122.1 364.2 112.1 357.1 111.0 356.0 106.1 379.2 117.8 369.3 113.6 381.8 119.6 375.2 108.8 366.5 101.4 368.0 105.0 374.9 119.3 368.3 106.6 370.8 118.9 370.0 102.1 367.7 107.2 372.5 94.4 365.7 120.8 370.3 104.1 371.7 115.3 363.8 118.0 373.0 111.4 374.6 101.5 373.6 110.9 363.5 105.3 376.0 107.8 367.0 105.3 364.3 120.7 382.2 127.4 372.0 120.0 367.0 106.8 362.1 125.1 367.0 104.7 365.3 113.3 365.8 111.7 370.0 125.4 361.7 113.8 364.9 107.2 378.6 119.8 366.7 116.5 368.9 123.0 366.2 116.4 367.8 112.0 368.1 105.8 369.7 121.8 365.5 107.7 371.2 105.1 374.2 119.9 355.5 103.4 362.7 119.2 374.6 101.3 365.0 110.6 366.9 118.8 374.9 118.9 375.5 122.4 368.6 107.8 364.7 119.4 374.3 123.0 367.1 108.0 370.6 124.7 371.2 114.7 364.2 115.7 372.3 103.3 379.5 104.9 374.6 111.1 370.0 104.6 365.7 118.5 367.9 108.6 374.3 120.0 370.1 114.6 379.3 112.2 371.4 116.7 360.8 91.8 369.8 120.8 370.3 107.1 365.2 119.5 367.3 96.1 373.1 115.2 371.3 122.7 376.9 118.9 368.1 91.3 370.8 111.0 376.9 126.0 371.9 126.0 368.6 111.7 364.1 108.3 370.3 122.7 364.7 119.3 367.6 112.1 375.0 132.6 376.4 113.0 364.1 110.8 368.9 114.5 363.8 126.2 364.8 118.1 370.3 101.6 369.5 112.4 368.0 119.9 366.3 136.6 375.7 104.3 370.6 113.2 363.3 97.0 378.6 108.3 373.2 119.7 364.0 106.8 362.9 111.5 376.8 123.2 371.5 123.5 368.7 99.1 366.8 105.3 369.6 115.2 379.3 103.6 377.8 125.9 375.1 129.2 360.8 117.8 363.0 134.4 363.2 99.0 375.7 119.3 369.2 113.4 372.7 129.7 364.8 105.8 365.6 110.7 369.1 99.3 370.8 99.8 367.2 109.2 367.6 126.5 378.8 124.4 378.5 110.8 377.4 112.9 370.4 115.0 361.0 104.6 368.1 115.5 368.3 103.4 362.1 111.0 361.9 99.1 368.4 113.7 364.0 93.5 370.7 120.4 366.6 107.9 355.1 118.7 362.4 118.1 365.5 110.0 367.9 93.9 369.7 104.0 367.6 125.5 357.8 108.7 372.0 113.7 371.4 104.9 359.2 97.3 366.5 119.0 369.5 128.0 393.5 109.4 394.8 76.8 378.8 78.8 373.3 105.5 382.2 85.6 374.5 87.1 379.4 110.6 375.7 119.9 383.8 104.0 388.6 76.1 374.4 73.7 374.6 94.4 384.7 90.6 367.3 103.6 373.3 110.8 364.5 82.2 356.0 128.3 359.9 100.8 361.7 121.6 368.2 124.4 366.5 110.2 383.9 113.6 360.7 102.0 373.9 73.0 383.3 104.6 380.9 77.0 377.1 108.0 387.1 88.3 383.0 130.0 369.8 97.5 371.1 79.6 370.6 129.8 363.9 103.5 389.1 105.0 377.7 95.4 373.6 102.7 383.1 99.8 386.1 67.3 384.7 89.4 375.1 95.1 382.6 96.9 382.4 85.9 377.2 120.7 388.2 90.7 376.7 95.4 373.6 102.9 389.4 105.2 392.3 119.3 360.0 113.3 369.7 78.4 362.2 99.4 394.8 95.0 372.8 102.5 366.2 108.6 374.0 76.4 382.5 97.3 382.9 83.2 376.1 115.6 356.1 98.4 370.3 99.6 369.0 109.0 387.1 102.5 387.1 113.6 368.1 109.4 370.7 114.4 371.0 100.9 395.1 90.8 356.8 111.8 378.6 92.6 375.9 118.0 369.0 101.7 366.8 110.9 373.6 88.1 373.3 131.9 355.1 88.7 379.1 78.5 398.0 68.8 359.8 100.5 387.8 109.5 381.8 104.0 390.4 66.9 378.4 123.4 362.6 112.5 389.5 115.9 373.6 132.3 381.1 116.6 362.6 95.5 366.3 133.9 384.5 100.5 371.6 122.8 352.8 103.3 387.6 108.9 364.4 102.2 357.9 131.1 370.2 124.4 384.5 84.2 373.5 113.1 380.4 124.1 388.3 101.8 383.3 87.6 368.3 114.7 379.2 83.1 374.3 90.1 368.8 125.4 364.3 96.6 381.9 100.7 377.3 78.8 375.0 96.6 365.9 97.5 371.9 117.0 397.2 94.8 392.6 96.8 358.1 110.6 390.3 118.0 365.1 141.8 366.8 94.5 369.3 127.7 380.1 114.7 349.6 112.5 374.1 113.9 398.2 72.1 401.6 85.1 402.6 91.5 414.4 95.2 407.5 93.2 396.3 78.7 411.3 93.0 427.5 85.5 394.3 90.4 399.9 79.2 418.9 105.9 408.5 81.4 407.3 87.1 390.1 95.6 408.2 99.6 398.8 87.5 403.4 71.2 392.6 84.3 388.2 91.7 399.8 88.4 407.1 88.4 405.7 86.3 409.2 95.4 402.0 83.5 400.5 90.7 400.9 84.1 388.9 106.2 391.8 103.9 413.2 97.6 407.5 92.5 375.2 128.1 359.9 137.6 366.1 130.5 365.5 126.6 374.6 147.7 363.7 137.3 367.3 146.8 365.8 150.9 369.1 131.9 368.7 133.5 378.0 139.3 367.1 138.9 374.9 130.5 362.4 148.5 371.5 134.5 368.7 146.8 368.3 143.4 366.6 146.8 358.7 138.4 372.2 125.8 361.0 138.8 373.1 147.5 366.3 140.8 363.4 152.0 366.7 148.2 367.9 135.4 375.5 131.1 374.2 135.2 365.5 131.4 373.5 137.4" marker-start="url(#mk)" marker-mid="url(#mk)" marker-end="url(#mk)"/>
<path d="M342.5 97.0 338.6 103.1 333.5 89.4 339.8 87.1 341.6 82.9 339.0 98.4 339.2 76.6 340.9 86.1 338.1 92.5 337.6 77.1 338.8 85.0 339.6 74.9 343.8 93.7 339.8 89.2 336.9 92.0 336.5 96.8 338.1 84.8 343.3 96.8 336.0 79.9 340.0 84.6 341.5 80.1 334.8 77.8 339.0 92.4 341.3 99.4 340.1 84.9 341.3 85.9 338.3 82.3 341.8 101.8 342.8 70.9 342.2 75.7 338.6 92.8 336.1 74.7 337.6 103.8 342.2 77.9 339.8 88.3 340.3 79.8 343.1 83.1 341.5 70.1 340.5 88.4 340.9 95.1 338.8 100.1 344.7 95.8 341.5 100.4 340.6 99.2 341.0 80.1 336.9 98.7 341.0 80.3 339.6 101.6 335.2 77.9 341.2 95.2 336.6 77.0 339.9 101.0 339.5 63.7 342.1 86.7 338.3 75.3 342.5 89.6 340.5 90.5 340.6 95.3 343.8 76.3 339.3 82.4 343.7 84.1 335.5 86.7 337.7 79.6 338.4 73.9 339.2 77.6 341.0 100.3 335.1 82.5 340.2 78.5 340.6 74.6 337.8 85.7 340.6 87.3 337.8 83.3 338.5 84.0 340.1 92.7 340.3 80.2 335.3 85.2 337.5 81.4 339.5 89.3 342.7 85.5 335.2 92.8 341.8 70.5 341.0 88.8 338.1 88.6 340.5 92.8 342.4 86.8 339.5 111.1 336.8 84.2 338.6 94.6 342.3 73.7 342.6 75.0 342.2 84.2 341.3 79.4 339.8 87.2 339.7 94.9 338.4 83.7 336.2 85.5 338.3 95.8 341.2 79.7 340.6 100.1 339.0 75.2 345.6 92.5 341.2 112.0 337.5 90.0 334.7 91.9 340.5 79.1 337.4 85.2 338.9 102.8 338.9 85.3 339.0 70.9 338.3 73.4 339.8 65.0 336.7 89.5 342.0 73.6 339.5 90.0 336.8 70.0 343.3 81.3 340.8 79.3 340.4 73.8 336.0 76.4 337.9 80.6 338.7 91.2 338.1 96.3 337.8 93.5 342.8 104.3 335.1 101.1 339.4 90.4 337.1 96.3 341.2 81.4 337.9 95.5 342.1 94.6 338.5 87.0 341.8 95.3 342.3 88.4 337.7 89.8 340.6 81.6 340.6 78.6 340.1 80.9 344.8 98.9 340.1 73.8 336.4 93.9 339.1 90.0 335.5 71.9 339.8 84.9 336.2 78.9 341.4 82.6 340.9 103.5 340.3 88.2 338.0 99.1 335.9 75.9 339.4 72.2 341.9 80.7 340.8 83.8 338.9 87.1 334.6 76.0 338.3 109.1 341.5 94.2 336.9 95.9 342.6 94.5 336.8 84.3 337.0 87.4 340.8 86.8 339.7 91.0 341.4 80.3 337.8 98.8 338.6 78.6 340.2 83.4 339.8 86.3 341.1 96.1 337.4 74.7 343.5 80.0 335.6 67.9 339.4 80.4 334.9 77.4 336.8 96.8 340.1 86.8 336.3 85.1 341.1 88.4 342.1 87.6 341.2 91.4 338.0 100.2 340.4 95.1 336.8 76.0 339.0 78.8 341.0 90.9 342.5 92.7 336.6 96.3 337.8 79.5 339.6 86.8 340.5 101.4 338.9 90.2 338.2 82.6 342.8 91.4 340.6 78.8 343.7 85.1 337.8 86.7 341.1 94.3 343.1 76.3 338.4 102.4 345.1 80.6 339.2 71.4 337.4 78.0 339.2 75.0 341.8 86.3 338.8 96.1 338.8 74.5 339.5 108.5 339.7 92.1 339.0 84.7 336.4 80.9 338.8 101.4 345.6 93.2 340.5 93.7 343.2 77.1 338.2 88.4 340.2 67.9 340.5 71.0 341.4 95.3 333.8 91.9 340.0 80.7 341.8 106.8 340.7 76.0 335.9 75.2 336.9 98.1 340.2 86.6 341.6 87.0 339.5 78.5 337.9 87.2 336.5 103.4 339.8 81.4 341.9 76.3 342.1 87.7 344.2 81.4 338.5 78.4 336.4 89.3 336.8 90.0 337.9 97.3 333.1 91.0 339.6 86.8 337.9 104.2 338.4 91.1 338.8 83.2 339.7 93.5 336.7 82.1 335.9 90.8 337.3 79.4 341.1 86.7 340.5 85.4 340.5 87.7 336.7 88.9 338.6 84.4 340.1 81.3 336.8 98.6 344.0 83.4 342.3 90.6 337.8 78.5 338.7 82.5 338.6 85.6 336.6 95.4 336.6 76.1 341.8 94.4 343.1 88.2 337.8 98.2 339.2 85.6 337.3 90.8 333.5 92.0 334.5 95.5 335.6 93.6 345.6 84.0 336.5 106.2 338.3 75.7 335.7 73.7 337.7 66.6 341.5 97.0 339.3 82.7 335.5 91.5 337.7 92.9 342.0 87.3 334.2 77.4 342.9 89.5 339.2 85.0 335.4 80.4 341.9 92.2 338.1 90.1 342.4 76.0 340.2 97.3 337.7 99.8 339.2 97.9 341.8 89.5 338.7 80.3 339.9 88.9 343.0 86.0 340.3 103.7 340.3 91.4 343.5 87.8 340.5 94.4 339.2 75.7 335.8 84.8 342.3 96.8 343.5 95.9 337.8 72.3 338.2 84.2 337.6 96.1 337.5 92.7 341.4 69.4 338.4 99.4 341.6 88.1 336.7 79.8 339.7 99.5 340.7 86.0 340.0 94.6 335.1 76.9 339.5 98.9 342.2 79.0 339.5 79.4 338.5 88.3 338.6 81.2 336.5 71.0 339.0 88.7 341.0 78.6 337.6 99.4 345.5 84.7 369.6 87.5 342.4 77.9 339.7 82.7 351.2 82.7 354.8 94.4 358.9 70.6 360.5 72.1 355.9 84.2 368.7 82.1 351.2 80.2 360.6 86.5 349.5 92.2 367.0 77.4 351.3 85.0 335.4 101.9 338.0 87.6 340.0 84.6 360.4 88.9 343.8 76.2 361.4 82.6 353.4 93.4 327.5 86.0 364.7 102.6 359.0 75.3 361.8 103.6 346.0 75.5 350.8 78.8 339.4 76.5 356.5 77.6 354.0 98.1 342.6 94.0 352.2 87.0 361.7 91.6 339.3 70.9 354.9 90.9 372.9 89.7 348.6 78.0 345.2 69.2 339.4 77.2 353.1 74.9 352.3 80.2 349.9 78.5 355.0 83.4 326.2 86.1 353.2 76.6 353.8 75.7 353.4 73.7 358.8 86.9 337.9 75.6 359.0 87.5 353.5 70.9 345.5 84.9 355.0 83.0 344.0 80.7 347.3 70.6 341.4 74.4 337.4 88.2 359.6 92.7 344.5 75.0 354.5 78.1 349.0 79.7 336.3 96.7 338.0 66.1 359.9 71.3 362.5 86.7 355.5 79.0 338.2 70.3 353.0 81.9 340.2 70.8 343.6 82.4 356.3 92.7 348.4 98.4 359.0 98.9 343.5 89.2 362.6 64.0 361.0 87.4 361.0 84.9 363.2 78.5 347.0 90.7 359.0 68.6 363.7 95.6 362.0 75.2 364.3 88.5 361.0 82.5 347.8 75.5 346.1 92.6 344.5 76.4 355.2 80.2 332.1 76.0 348.5 100.2 358.5 72.4 341.3 78.2 354.2 74.7 356.2 68.0 355.2 95.7 326.3 82.7 354.5 87.8 353.0 82.3 354.7 84.2 352.9 99.8 361.9 92.8 345.9 77.8 362.2 71.8 361.9 68.7 372.6 96.2 346.7 78.1 332.3 82.5 363.5 89.5 349.5 104.8 357.4 87.4 349.1 89.2 377.3 87.8 335.9 85.3 370.5 95.7 347.0 86.7 337.7 89.8 343.5 77.4 346.5 75.4 368.4 98.7 349.2 84.0 368.3 79.9 347.7 74.0 367.1 84.7 352.1 78.5 343.2 93.1 344.5 77.4 335.7 71.3 347.0 77.8 337.3 76.4 341.0 43.2 335.6 51.7 354.8 51.7 315.5 80.3" marker-start="url(#mg)" marker-mid="url(#mg)" marker-end="url(#mg)"/>
<path d="M437.0 134.4 454.3 126.1 467.0 120.7 436.8 116.5 430.0 119.3 426.1 116.8 441.7 126.4 420.3 129.1 424.0 128.9 438.4 97.3 420.5 135.4 426.8 113.6 430.2 124.9 446.5 121.3 464.5 119.8 429.7 120.7 440.0 145.2 475.2 124.5 434.5 132.9 435.3 136.2 420.1 134.1 401.9 127.0 422.5 132.1 447.8 112.3 441.4 112.8 418.3 100.3 433.7 108.8 403.5 123.8 409.3 130.3 441.1 112.9 411.3 107.8 415.1 115.8 402.9 111.1 446.2 139.9 459.0 112.9 433.4 135.8 448.7 105.4 423.4 91.3 424.8 102.6 441.5 113.7 446.8 123.7 431.5 148.6 456.2 107.5 459.8 137.9 458.8 133.3 407.3 114.6 425.4 140.7 437.6 127.2 449.1 112.5 455.2 129.5 421.0 113.5 432.9 132.1 460.5 122.6 433.2 149.4 440.1 119.1 448.2 129.8 423.8 141.8 423.8 114.8 415.9 132.9 413.0 130.4 443.5 135.6 412.3 122.8 441.5 137.4 443.2 116.3 455.9 146.6 459.4 116.1 445.7 111.8 434.1 134.5 457.4 115.4 427.4 121.6 434.6 106.0 434.7 101.1 426.6 148.7 435.8 118.1 463.2 132.0 447.4 117.0 455.3 121.5 451.6 135.3 465.9 142.3 436.6 108.4 431.9 113.2 462.6 120.8 398.5 124.4 450.6 112.3 449.0 106.1 441.0 122.1 442.2 130.8 425.6 134.3 428.5 124.5 460.8 113.5 438.2 147.6 458.1 116.7 426.5 130.6 425.9 123.5 413.9 130.2 409.8 122.3 448.7 115.6 410.4 101.7 442.4 125.4 454.3 145.6 444.5 124.0 427.4 119.9 452.9 135.0 447.5 100.5 423.9 112.0 427.7 107.0 448.4 141.1 467.7 120.2 435.2 125.1 436.8 111.5 450.5 95.8 428.7 94.6 447.6 104.7 417.3 121.1 419.2 125.3 430.3 152.1 416.2 109.1 446.6 127.0 444.5 120.6 453.1 131.2 459.4 106.8 441.3 121.2 443.7 110.9 450.7 106.0 452.0 134.1 406.3 125.8 404.0 128.0 409.7 119.3 432.4 99.2 405.4 127.2 428.8 139.0 440.0 150.6 443.0 126.1 446.3 114.0 426.1 147.2 433.8 106.6 445.9 112.9 438.5 141.3 459.3 154.3 457.3 136.7 446.7 130.0 436.2 149.2 435.5 142.3 426.9 146.6 463.3 118.8 436.4 138.4 443.0 127.0 454.6 107.7 465.5 135.4 438.1 102.9 461.6 134.4 438.3 141.1 431.9 123.0 455.7 134.5 455.3 122.5 467.5 108.4 415.4 130.2 433.6 128.2 439.6 123.7 420.9 128.2 461.3 116.5 424.7 136.2 420.4 121.8 420.5 115.7 407.5 119.6 421.3 110.5 405.6 122.3 471.5 125.0 436.5 108.9 431.1 112.4 412.5 109.3 430.3 129.5 433.3 129.4 461.0 142.6 431.8 98.7 435.7 126.7 455.8 130.2 450.0 113.7 421.7 119.1 442.2 136.4 464.1 149.1 453.1 125.7 448.1 146.0 422.0 133.3 447.2 124.6 469.0 119.2 421.8 122.6 427.8 143.9 410.2 102.2 443.7 137.2 418.2 142.0 405.7 136.3 423.2 116.2 468.8 128.4 427.2 127.3 470.3 130.4 425.0 126.5 417.0 112.1 428.4 133.4 429.7 131.1 457.6 151.0 409.3 120.4 418.4 131.9 442.2 125.4 428.9 109.4 409.2 135.4 434.5 124.9 443.3 137.3 469.9 126.5 449.0 102.2 431.2 113.5 427.2 140.6 439.7 126.1 439.2 121.8 434.1 114.8 428.8 117.3 434.8 96.8 439.0 124.5 444.9 109.3 422.1 134.6 425.7 130.3 426.4 105.6 413.2 112.6 429.8 105.7 461.8 128.3 422.8 144.8 451.7 115.5 420.5 119.8 450.1 105.8 457.2 121.8 451.9 124.7 446.1 135.4 459.6 117.3 469.8 110.4 443.2 135.6 438.4 138.0 410.8 120.7 454.8 127.4 419.4 124.9 441.2 110.9 460.3 120.1 420.8 124.3 427.1 120.8 442.0 119.5 448.0 130.7 458.5 113.2 439.2 129.0 442.9 95.0 420.2 127.5 447.7 126.9 441.2 143.5 432.2 113.2 463.2 137.4 435.4 114.4 465.1 124.7 424.6 142.0 413.5 119.7 448.7 122.4 429.5 130.4 417.8 119.4 450.3 110.8 461.4 125.2 436.9 118.1 447.9 119.5 442.0 144.1 459.2 105.8 460.8 121.0 443.3 127.4 442.9 117.0 448.0 141.3 428.5 123.7 451.8 142.7 443.8 129.8 446.3 121.3 443.8 121.9 432.4 90.1 408.1 126.6 450.5 133.3 439.8 120.9 447.5 120.5 438.0 146.9 414.8 113.2 433.9 96.5 418.1 137.8 446.6 124.1 459.8 113.4 469.9 128.2 427.8 139.4 446.6 129.0 435.9 98.2 403.0 120.2 453.9 115.3 439.3 102.1 412.7 120.6 449.4 137.1 457.8 115.7 434.9 135.7 420.5 117.9 437.6 124.3 452.3 132.8 430.2 89.7 450.8 140.9 446.1 130.9 445.0 143.2 429.0 122.4 420.9 119.1 423.7 110.7 404.2 118.7 458.7 126.7 426.0 127.3 433.1 122.6 461.1 129.9 443.4 121.2 434.3 110.6 435.2 112.6 456.3 123.4 449.5 144.7 454.2 116.5 422.0 121.0 425.2 91.7 412.1 124.5 408.4 129.5 456.3 146.3 441.3 123.9 457.2 136.0 442.7 140.7 405.0 132.4 455.5 115.4 444.4 114.2 430.4 146.7 442.6 130.5 410.8 133.8 426.3 129.5 420.0 127.2 446.3 103.9 442.4 111.8 458.0 132.2 451.1 120.4 451.8 130.2 459.8 112.5 470.1 121.1 430.8 112.6 432.1 151.5 440.3 108.9 434.6 127.5 453.3 121.6 435.0 125.6 417.2 135.5 429.4 150.2 457.5 138.8 428.8 118.2 430.8 124.6 431.4 115.6 438.9 124.1 430.9 136.8 454.8 118.4 473.3 134.6 457.9 154.5 413.4 128.5 452.7 143.9 450.6 140.8 412.0 106.9 446.9 95.7 428.1 120.3 443.6 138.4 441.4 112.7 421.2 128.2 447.1 131.1 439.7 126.2 413.9 120.8 450.1 109.5 444.5 135.5 433.1 106.0 418.9 98.1 407.2 130.6 437.2 128.8 456.3 107.1 439.0 127.0 420.8 112.7 453.4 137.0 452.5 131.2 439.4 132.1 434.8 149.0 441.3 132.9 436.1 114.5 436.7 119.6 424.1 134.7 471.2 133.3 435.8 113.8 412.9 130.3 447.3 114.3 439.0 112.4 461.5 129.6 445.1 150.7 400.3 125.8 442.2 121.1 438.1 143.1 426.8 113.9 466.9 143.7 446.1 137.9 439.5 120.9 435.6 129.3 430.3 100.7 435.4 128.9 435.9 134.7 443.1 139.9 440.3 123.0 447.8 139.4 430.8 111.7 460.6 120.5 444.5 119.2 441.9 146.0 466.4 109.9 448.1 149.3 442.6 121.5 452.0 113.4 449.2 146.3 458.9 138.2 429.7 119.3 422.9 150.2 459.0 127.0 437.0 128.5 427.1 131.2 446.4 132.5 434.9 104.2 429.8 121.1 432.9 111.9 445.9 117.4 459.1 140.0 439.2 103.2 450.9 140.8 448.8 122.0 448.3 114.9 441.9 130.7 433.9 109.8 434.0 111.4 417.7 137.4 435.1 116.8 429.0 129.8 432.2 113.6 442.2 127.3 422.5 107.0 459.4 123.4 457.8 136.0 436.4 120.9 464.8 118.8 431.1 111.7 435.0 110.5 439.5 106.5 446.3 130.6 441.1 116.2 435.3 113.0 448.3 122.9 439.9 134.3 414.8 132.1 420.0 103.9 431.0 145.0 426.9 129.9 421.9 131.5 442.8 142.0 440.5 124.9 406.1 124.9 450.7 129.1 440.5 133.1 452.0 113.3 436.2 130.6 441.7 111.0 404.2 124.7 449.5 150.5 444.5 112.6 520.8 133.8 485.4 139.6 466.3 139.8 477.9 121.4 488.6 118.4 455.0 112.3 491.3 129.1 481.7 135.0 460.3 119.2 515.7 111.6 508.1 121.2 491.5 128.3 474.4 126.6 501.1 115.2 459.1 137.0 471.3 122.6 475.9 119.1 440.5 123.7 469.9 106.2 467.7 128.3 518.0 117.5 509.4 118.7 490.2 121.5 496.4 127.0 471.5 103.5 501.7 104.1 466.8 149.7 485.4 126.3 482.9 128.5 472.6 129.8 476.6 120.5 490.4 133.9 487.9 138.3 521.1 149.1 482.5 110.0 505.3 126.8 497.2 120.3 499.1 109.8 484.1 106.6 524.5 121.8 434.9 143.1 501.8 144.4 456.1 130.7 509.4 122.9 489.2 122.5 474.1 144.6 464.0 126.0 493.4 126.2 499.2 98.2 505.7 109.2 509.5 93.0 532.0 117.0 318.8 139.4 339.0 123.6 388.6 138.0" marker-start="url(#my)" marker-mid="url(#my)" marker-end="url(#my)"/>
<line x1="343.50" y1="164.30" x2="343.50" y2="166.50" class="tk"/>
<text x="343.50" y="172.20" class="tl" text-anchor="middle">0.01</text>
<line x1="387.10" y1="164.30" x2="387.10" y2="166.50" class="tk"/>
<text x="387.10" y="172.20" class="tl" text-anchor="middle">0.02</text>
<line x1="430.70" y1="164.30" x2="430.70" y2="166.50" class="tk"/>
<text x="430.70" y="172.20" class="tl" text-anchor="middle">0.03</text>
<line x1="474.30" y1="164.30" x2="474.30" y2="166.50" class="tk"/>
<text x="474.30" y="172.20" class="tl" text-anchor="middle">0.04</text>
<line x1="517.90" y1="164.30" x2="517.90" y2="166.50" class="tk"/>
<text x="517.90" y="172.20" class="tl" text-anchor="middle">0.05</text>
<line x1="302.80" y1="155.02" x2="305.00" y2="155.02" class="tk"/>
<text x="301.00" y="157.62" class="tl" text-anchor="end">0.15</text>
<line x1="302.80" y1="136.58" x2="305.00" y2="136.58" class="tk"/>
<text x="301.00" y="139.18" class="tl" text-anchor="end">0.20</text>
<line x1="302.80" y1="118.14" x2="305.00" y2="118.14" class="tk"/>
<text x="301.00" y="120.74" class="tl" text-anchor="end">0.25</text>
<line x1="302.80" y1="99.70" x2="305.00" y2="99.70" class="tk"/>
<text x="301.00" y="102.30" class="tl" text-anchor="end">0.30</text>
<line x1="302.80" y1="81.26" x2="305.00" y2="81.26" class="tk"/>
<text x="301.00" y="83.86" class="tl" text-anchor="end">0.35</text>
<line x1="302.80" y1="62.82" x2="305.00" y2="62.82" class="tk"/>
<text x="301.00" y="65.42" class="tl" text-anchor="end">0.40</text>
<line x1="302.80" y1="44.38" x2="305.00" y2="44.38" class="tk"/>
<text x="301.00" y="46.98" class="tl" text-anchor="end">0.45</text>
<line x1="302.80" y1="25.94" x2="305.00" y2="25.94" class="tk"/>
<text x="301.00" y="28.54" class="tl" text-anchor="end">0.50</text>
<line x1="302.80" y1="7.50" x2="305.00" y2="7.50" class="tk"/>
<text x="301.00" y="10.10" class="tl" text-anchor="end">0.55</text>
<rect x="445.30" y="5.90" width="99.30" height="37.30" rx="1.5" fill="#fff" fill-opacity="0.8" stroke="#dcdcdc" stroke-width="0.7"/>
<circle cx="453.60" cy="10.30" r="1.3" fill="none" stroke="#d63a2f" stroke-width="0.6" stroke-opacity="0.8"/>
<text x="464.90" y="12.80" class="lg">spectre-v1</text>
<circle cx="453.60" cy="19.50" r="1.3" fill="none" stroke="#18202e" stroke-width="0.6" stroke-opacity="0.8"/>
<text x="464.90" y="22.00" class="lg">evasive-spectre-nop</text>
<circle cx="453.60" cy="28.70" r="1.3" fill="none" stroke="#6aae8f" stroke-width="0.6" stroke-opacity="0.8"/>
<text x="464.90" y="31.20" class="lg">evasive-sepctre-memory</text>
<circle cx="453.60" cy="37.90" r="1.3" fill="none" stroke="#f4c65c" stroke-width="0.6" stroke-opacity="0.8"/>
<text x="464.90" y="40.40" class="lg">normal</text>
<text x="426" y="180" class="al" text-anchor="middle">branch miss rate</text>
<text transform="translate(285.3,83) rotate(-90)" class="al" text-anchor="middle">LLC miss rate</text>
<text x="418.9" y="199.5" class="cap" text-anchor="middle">(<tspan font-weight="bold">b</tspan>) with realistic application</text>
<rect x="27.90" y="213.60" width="242.70" height="161.00" fill="none" stroke="#989898" stroke-width="1.15"/>
<path d="M121.3 240.8 109.8 244.1 119.3 238.7 123.3 250.8 114.1 244.7 111.8 251.0 114.6 240.3 108.7 240.8 109.9 251.2 122.9 239.8 114.5 245.5 120.0 240.6 126.8 249.1 110.7 249.5 120.6 244.5 113.1 248.4 116.6 252.7 125.5 250.5 109.3 247.5 129.1 255.2 126.3 251.7 115.2 253.3 129.8 248.1 122.3 245.2 120.5 244.4 122.1 245.1 111.1 242.9 121.7 247.0 127.5 250.8 126.6 245.7 125.4 242.4 115.8 250.5 120.8 242.0 124.7 253.3 123.7 252.6 124.6 250.6 115.0 236.6 116.4 240.3 120.1 242.4 119.4 241.4 118.0 253.4 113.7 237.2 127.2 249.8 119.2 243.9 121.1 244.1 124.8 244.4 115.9 248.7 115.0 248.7 112.9 243.2 120.4 242.4 124.9 245.5 120.6 236.0 122.5 246.3 108.4 247.2 121.2 242.3 113.4 238.8 119.5 246.1 118.2 256.1 119.3 246.7 110.6 247.4 124.5 241.4 131.0 243.1 120.2 244.0 124.1 234.9 126.2 240.3 116.5 258.5 114.0 244.8 112.5 244.9 121.6 253.8 122.7 250.4 115.1 246.3 129.7 247.7 131.1 239.8 115.4 246.1 113.7 249.1 113.2 247.6 111.1 241.6 120.8 248.9 114.1 238.3 122.5 240.9 121.6 252.4 123.0 238.3 126.2 251.5 116.1 243.8 127.3 247.5 121.8 251.4 127.1 246.7 120.2 244.5 126.2 240.0 124.4 243.0 109.3 251.0 121.9 247.5 117.8 245.9 116.0 252.8 127.1 245.8 119.6 247.5 124.6 247.2 117.1 244.9 121.2 245.4 117.5 252.3 121.9 250.7 114.7 250.3 119.8 244.9 115.9 242.9 117.0 246.7 119.2 256.2 122.3 247.4 119.2 242.1 115.2 247.9 111.3 254.3 128.3 238.7 126.4 251.7 125.9 249.6 128.8 242.1 117.2 249.2 120.0 239.0 124.2 251.3 118.5 248.1 125.0 235.6 116.6 241.8 118.9 240.0 112.7 247.3 129.8 240.0 128.6 251.0 125.3 252.8 117.4 251.9 111.4 242.2 121.6 250.1 112.1 236.7 122.0 247.7 123.6 245.8 112.5 251.9 124.0 247.1 131.8 247.4 128.1 245.5 126.2 237.6 123.7 244.8 124.8 248.1 114.2 249.1 119.6 250.8 130.5 245.3 128.8 245.8 123.1 247.2 116.1 246.9 117.3 249.1 113.9 241.4 124.6 249.0 122.9 249.1 125.6 248.7 124.9 242.4 122.7 242.6 113.0 245.2 123.4 246.4 129.7 249.7 122.2 246.9 112.4 246.6 120.0 255.1 115.5 245.7 115.9 247.1 110.3 247.8 119.9 247.2 122.5 246.2 125.9 257.6 129.2 248.0 112.8 248.5 110.7 241.9 116.6 240.7 119.8 244.5 115.7 248.2 115.8 252.8 123.3 244.1 122.3 242.9 116.3 251.4 110.9 248.6 113.3 243.2 109.1 245.2 124.3 242.3 120.4 249.3 129.4 245.8 123.7 248.8 120.0 244.5 121.7 249.7 112.3 244.3 121.6 247.7 121.6 254.5 125.6 239.8 128.6 242.6 115.1 251.7 117.9 237.6 123.2 248.5 122.7 239.0 124.2 243.0 124.7 239.8 114.3 236.1 115.3 251.6 121.0 243.2 127.3 247.2 124.0 247.9 119.1 246.8 122.1 251.9 123.0 250.6 113.4 236.5 121.4 246.9 122.1 241.0 120.4 240.7 120.1 245.7 118.6 247.7 116.8 246.0 123.5 253.8 121.9 250.3 122.9 254.6 131.4 242.8 123.5 247.6 116.0 237.2 127.4 247.5 123.4 248.2 121.2 248.2 117.3 235.7 121.5 245.8 116.4 243.0 127.0 242.3 113.7 249.5 127.8 239.5 114.0 240.7 121.7 248.9 127.5 245.8 118.2 243.0 125.9 243.0 114.9 244.9 119.4 248.1 116.0 255.0 130.3 240.3 120.4 240.9 118.0 239.8 118.0 247.4 120.5 239.2 126.4 245.1 120.0 253.5 113.9 248.2 115.8 247.0 109.0 244.0 119.1 246.6 111.5 244.8 124.5 245.6 124.3 249.4 120.9 244.2 120.0 241.3 123.3 247.7 124.3 248.9 120.6 250.4 127.3 244.6 112.4 239.1 125.1 248.4 122.6 237.4 116.4 238.1 113.1 243.1 115.7 254.1 112.4 242.9 115.3 246.4 123.6 241.9 110.1 243.8 121.8 240.5 125.0 240.8 115.9 243.7 130.3 250.0 121.5 240.8 113.2 242.4 128.5 252.7 120.3 242.4 109.6 243.7 122.5 248.9 121.7 242.4 122.4 245.2 124.5 247.3 123.9 247.7 116.9 252.0 113.7 249.4 117.0 244.2 121.1 243.4 113.8 241.3 141.1 244.9 141.2 244.7 152.0 246.0 142.1 241.3 136.4 243.9 136.9 248.9 140.0 245.1 142.2 243.3 136.7 244.2 143.8 246.5 138.7 253.1 144.6 249.5 150.3 243.3 147.5 247.9 144.3 241.0 138.9 246.9 142.6 252.9 141.0 247.8 141.4 241.8 141.2 247.3 151.3 251.7 140.3 243.4 142.8 244.7 154.8 250.2 142.6 244.8 137.7 246.6 130.5 245.4 140.7 252.8 134.4 250.4 141.3 249.9 139.3 248.5 147.0 256.8 139.0 246.5 142.4 244.7 142.5 247.1 141.3 240.3 144.2 241.3 142.5 250.9 136.8 246.4 143.9 246.8 140.7 247.0 146.2 243.1 142.1 249.7 140.1 242.3 146.7 249.6 147.6 246.9 139.8 252.8 149.0 250.1 140.6 247.4 138.7 242.9 143.4 248.2 145.7 247.4 152.8 243.2 149.3 245.4 147.5 243.5 153.6 252.5 135.3 252.1 143.9 250.5 143.0 246.5 136.4 245.2 143.0 240.6 138.3 247.1 145.2 245.3 149.8 245.1 146.1 252.1 139.3 251.6 142.5 243.8 150.9 253.4 141.7 251.3 147.9 247.1 153.8 246.7 140.0 247.3 142.7 245.5 141.9 242.0 146.2 241.9 148.6 249.9 141.3 245.7 140.1 247.2 151.7 248.5 141.2 254.0 141.3 245.8 153.6 249.8 149.1 249.6 145.9 249.9 147.0 255.8 137.6 238.0 141.9 241.5 144.0 242.6 143.5 251.5 140.8 244.4 147.1 244.3 142.9 246.7 137.1 250.9 138.0 250.7 145.1 243.1 141.6 250.5 141.9 255.8 138.5 251.8 135.2 246.2 148.1 239.8 144.6 242.9 136.8 244.3 140.6 245.3 140.3 243.8 153.5 248.9 141.8 243.3 144.5 248.2 138.8 246.5 146.8 248.3 142.9 247.6 139.6 246.9 143.5 244.3 142.6 250.7 148.2 238.6 136.2 251.0 145.2 248.9 136.4 247.4 146.0 248.8 139.6 244.9 144.7 247.9 116.9 235.9 127.7 234.5 153.0 246.0 140.7 261.1 116.2 259.8 123.2 241.8 133.0 244.7 129.5 246.9 107.2 231.3 134.5 245.0 135.9 262.4 130.4 230.1 136.7 261.6 160.8 243.4 132.4 247.2 139.3 242.6 122.6 259.1 153.9 244.2 120.9 238.0 112.2 232.0 125.8 237.0 134.3 239.0 115.7 240.2 126.2 257.3 123.0 242.5 134.2 255.8 124.7 249.7 115.2 238.0 125.2 235.3 141.2 252.1 148.3 235.0 120.8 243.5 140.0 231.6 125.6 253.8 131.3 242.8 112.2 240.6 140.5 253.7 103.6 247.6 123.9 234.7 158.1 250.2 112.7 233.8 132.2 229.3 126.2 248.4 108.8 245.3 136.0 237.2 135.1 249.9 135.8 237.0 142.5 240.3 132.4 244.1 129.1 224.0 145.3 248.1 131.1 249.4 122.6 242.0 137.0 222.6 117.6 237.7 124.4 238.2 117.1 245.8 141.2 247.8 144.9 248.4 152.0 258.8 122.0 235.6 119.9 240.1 140.4 248.5 132.4 237.0 122.6 241.5 133.0 248.2 117.9 257.3 141.1 250.2 104.5 251.2 131.5 245.4 124.4 230.4 149.5 232.5 140.7 247.0 152.3 239.2 111.4 247.0 149.1 238.3 145.5 249.2 129.5 245.6 131.5 237.7 131.6 247.7 139.4 237.0 138.1 235.3 135.4 241.4 124.4 243.1 134.9 226.5 148.8 253.5 134.4 227.7 142.5 243.6 155.0 239.1 126.4 253.2 96.0 239.8 114.6 245.9 134.7 259.8 144.3 230.6 141.7 247.4 131.1 232.5 134.2 235.7 111.7 232.7 143.4 227.0 147.4 242.0 38.9 220.0 259.0 238.3 174.0 251.5 181.0 251.5" marker-start="url(#mr)" marker-mid="url(#mr)" marker-end="url(#mr)"/>
<path d="M143.8 287.4 128.0 300.8 134.6 299.4 135.9 295.1 130.7 297.8 136.9 296.4 132.2 301.8 135.7 298.5 127.0 286.0 140.3 291.5 129.3 297.2 144.5 293.6 133.1 297.6 139.0 295.5 122.5 299.4 129.8 306.6 130.3 296.4 134.8 296.3 152.8 293.8 142.4 295.2 132.8 299.4 137.6 294.2 128.4 297.5 139.7 292.0 131.1 284.8 140.1 296.1 138.3 295.1 146.2 302.8 128.9 295.8 146.4 297.1 146.5 288.8 129.9 289.4 130.9 290.9 123.0 302.4 139.0 290.6 120.8 301.6 119.1 289.0 126.3 291.1 138.4 299.9 137.4 288.7 144.3 301.7 140.7 308.2 127.6 290.9 129.6 291.7 139.7 296.2 132.3 301.5 134.5 292.0 130.7 287.8 133.4 290.2 134.3 297.1 138.3 292.5 148.4 288.6 140.0 295.1 137.0 291.2 129.5 298.5 122.8 295.7 124.7 284.8 135.5 291.8 136.0 295.6 136.2 292.4 123.6 299.0 140.2 297.1 136.9 301.6 141.9 298.8 130.6 300.6 128.9 297.1 128.0 294.1 140.5 293.3 141.7 292.4 146.7 294.1 134.7 288.8 132.0 305.9 126.2 286.3 137.1 301.9 132.3 290.2 133.4 293.8 142.9 305.4 134.0 290.4 126.6 285.4 134.5 286.4 140.0 293.7 130.0 302.9 122.7 300.0 135.7 296.4 134.9 288.7 139.2 301.6 120.7 295.5 134.1 293.3 137.8 293.8 132.1 301.5 128.1 292.7 131.9 290.5 131.2 302.7 129.9 287.8 143.6 297.4 127.2 293.7 135.8 296.3 138.6 296.1 134.8 290.1 135.4 296.0 125.3 295.3 125.9 285.5 134.2 297.7 141.4 291.7 124.4 289.8 132.9 294.2 138.1 293.8 142.2 291.3 138.1 298.4 137.5 297.8 127.1 299.7 131.1 293.8 127.6 296.9 131.6 291.0 139.6 290.6 137.3 295.9 138.6 295.1 126.2 295.7 137.4 305.3 148.0 299.8 131.1 288.8 139.1 297.9 138.7 298.2 137.5 294.3 130.8 298.9 135.0 300.8 131.8 293.4 129.4 298.6 129.1 281.8 129.2 291.1 134.9 293.0 143.9 296.7 141.8 302.7 142.4 300.1 131.6 297.4 134.3 299.3 130.9 298.7 131.5 299.2 143.7 301.9 132.2 302.4 122.9 296.0 125.0 295.1 126.7 294.8 130.0 302.1 150.4 299.9 142.4 297.7 134.5 293.9 126.9 290.7 140.8 292.8 137.9 290.2 134.6 305.6 138.9 301.3 134.1 292.7 145.3 299.3 141.1 300.8 136.2 292.7 138.0 285.5 135.9 301.5 133.7 305.6 132.9 289.5 139.4 294.3 139.7 291.7 139.2 295.9 137.1 300.5 129.9 294.3 143.1 302.0 140.4 289.1 136.7 293.0 133.1 286.7 120.6 300.7 141.0 287.2 132.8 295.5 131.2 298.0 132.5 287.5 132.3 297.7 128.8 299.3 142.6 298.5 139.2 294.7 139.0 291.1 118.8 291.3 145.4 300.8 127.7 293.9 130.1 288.6 132.8 299.4 135.5 293.7 126.9 295.2 140.8 296.0 140.9 282.3 128.9 291.3 125.6 286.3 141.1 288.0 142.7 299.9 132.6 287.3 130.9 291.0 130.4 290.7 135.3 293.4 134.6 294.8 143.5 306.0 135.1 294.5 133.8 300.2 139.8 295.6 134.0 298.1 142.3 292.6 138.0 285.0 130.3 297.6 124.0 286.7 136.7 284.2 132.7 306.4 137.4 304.6 145.9 290.8 133.6 297.1 142.7 302.9 140.4 296.8 127.7 300.8 131.0 300.4 144.4 287.1 149.1 294.0 142.6 300.2 148.0 301.6 146.5 299.7 129.6 294.0 139.9 300.3 136.1 291.1 126.3 295.6 131.7 298.4 140.2 295.8 121.1 291.3 130.7 298.5 130.7 293.8 127.4 292.0 150.6 299.7 138.1 290.5 126.6 300.7 135.1 298.4 137.2 295.8 147.5 295.5 134.0 296.3 133.4 285.1 132.7 295.1 142.6 289.7 133.0 295.2 138.5 305.8 139.7 298.8 126.8 304.0 123.2 302.6 141.3 295.7 127.8 298.1 131.9 302.6 116.9 295.6 133.1 299.8 127.2 289.7 120.1 292.7 136.4 293.8 128.3 293.9 139.1 296.8 121.4 292.4 139.3 296.9 127.8 298.0 136.8 292.4 137.3 293.9 130.3 300.8 124.1 305.6 136.9 292.8 138.1 289.9 132.3 306.1 138.4 294.2 134.0 300.2 141.6 293.3 143.5 295.0 134.8 299.3 130.0 286.5 134.1 300.0 133.1 300.0 143.7 293.2 135.2 294.4 139.8 297.9 136.5 302.7 138.0 296.7 130.1 295.6 144.6 299.1 156.5 280.5 126.4 301.8 167.5 294.5 150.3 294.6 151.3 300.0 140.4 295.2 149.6 296.7 156.5 276.7 151.5 283.6 161.5 295.6 140.2 296.3 142.6 288.9 157.6 299.0 161.6 294.0 149.4 290.3 163.6 290.0 157.7 292.9 176.9 296.6 173.9 289.8 145.8 283.3 157.6 282.5 130.9 292.6 184.3 285.2 157.7 289.5 157.9 280.0 159.2 295.7 159.2 292.0 156.3 295.7 141.3 278.2 149.6 291.3 163.7 283.3 158.1 289.6 165.1 285.1 163.9 294.4 152.3 289.9 150.0 286.1 147.7 283.7 165.0 291.7 154.2 291.4 156.2 301.5 167.0 285.8 164.5 276.4 149.4 285.7 159.8 285.4 145.6 286.7 137.4 283.7 143.1 295.3 158.9 295.2 176.8 293.1 132.4 289.8 174.8 287.8 160.3 290.9 137.9 296.5 153.6 283.1 160.2 302.1 153.1 281.1 153.8 283.7 124.6 292.2 160.2 282.1 154.1 289.3 149.4 288.2 151.1 288.8 153.4 294.2 148.9 285.0 161.4 283.9 182.2 283.2 180.3 287.3 159.0 296.0 160.5 288.1 150.8 284.0 143.0 298.6 166.9 285.5 177.0 299.9 169.2 269.4 129.6 299.5 139.8 295.7 149.6 293.8 150.7 290.7 133.2 293.5 143.4 299.7 146.0 294.8 161.9 287.3 143.9 292.8 152.7 295.9 142.6 283.2 163.2 289.9 169.3 297.0 130.7 295.9 156.2 289.9 166.1 302.0 151.9 289.1 162.5 293.7 152.6 296.4 171.5 282.5 170.1 280.9 170.4 279.9 143.2 281.4 150.0 289.9 152.0 287.1 150.7 286.4 148.8 291.4 146.5 291.9 139.9 282.0 163.3 281.7 154.8 281.7 134.5 282.7 142.3 301.1 144.4 292.8 148.4 291.1 138.0 300.3 156.0 285.5 163.6 276.0 144.2 293.6 173.4 281.9 176.5 294.0 142.2 295.3 167.9 279.5 172.5 274.3 171.2 294.8 174.9 291.9 157.2 277.0 176.3 290.2 164.5 283.2 125.3 298.4 142.5 291.4 161.0 278.5 159.6 282.7 146.5 296.6 135.1 288.7 150.7 297.7 152.7 294.7 139.7 280.8 151.7 301.6 160.3 285.0 145.7 301.0 161.8 277.2 155.7 289.2 158.3 288.0 151.8 289.4 128.2 291.7 147.7 298.6 166.2 284.3 152.0 290.4 178.9 292.8 145.1 301.9 141.8 300.2 155.0 280.4 148.1 289.1 167.5 296.8 131.3 289.9 167.5 290.7 160.3 293.2 163.5 297.5 148.7 273.6 159.9 283.5 132.5 293.8 144.1 290.7 127.4 298.3 152.9 291.0 144.2 285.1 190.9 277.3 194.7 278.4 200.6 285.0" marker-start="url(#mk)" marker-mid="url(#mk)" marker-end="url(#mk)"/>
<path d="M138.8 279.9 142.9 272.9 127.2 283.5 136.6 276.3 143.2 268.8 137.0 275.1 140.0 276.9 141.4 269.7 134.4 272.1 143.9 284.5 137.7 281.2 135.8 273.5 145.8 276.6 129.8 280.6 135.2 279.5 122.7 280.7 131.8 278.9 140.0 282.1 137.3 279.1 135.4 268.4 133.4 274.3 135.2 278.1 138.7 283.4 149.7 271.2 138.2 279.8 135.7 281.2 123.1 281.1 136.0 266.3 135.6 288.5 136.6 289.2 151.3 279.0 135.4 281.3 146.5 287.8 139.6 272.3 147.0 266.7 136.0 277.8 140.6 273.9 138.4 282.7 137.7 272.5 142.4 278.4 131.2 273.2 149.3 276.4 140.8 274.6 136.5 277.1 134.2 281.9 144.2 282.2 134.9 273.7 124.7 283.7 135.5 270.3 130.1 282.1 135.6 281.8 138.6 282.9 146.1 269.8 147.0 278.2 132.5 274.4 132.2 279.6 140.7 269.6 125.7 284.9 139.8 269.6 143.9 284.4 140.5 280.4 142.0 272.7 150.2 274.9 141.0 272.8 128.1 274.3 150.9 277.5 124.7 283.5 145.0 272.5 138.1 277.3 132.4 277.8 127.1 279.4 143.8 272.2 141.6 281.9 141.0 285.9 137.3 272.7 142.4 280.4 123.4 277.7 132.4 275.0 137.9 286.4 139.9 273.2 133.6 278.5 131.1 273.8 143.5 275.1 138.4 267.5 126.7 281.3 130.7 281.8 134.1 279.1 144.9 272.4 132.1 284.1 137.3 276.3 143.0 271.3 137.0 269.7 128.6 281.1 145.0 278.3 127.7 276.4 139.3 277.0 144.7 272.3 139.2 275.1 136.6 275.1 140.3 269.9 135.2 279.2 142.7 283.6 138.4 284.0 145.4 276.4 149.9 286.3 135.3 276.4 134.1 276.5 139.4 278.8 134.6 280.0 144.9 282.5 141.4 275.2 135.2 287.0 137.5 272.7 143.0 286.9 127.5 287.0 130.9 282.3 137.7 273.5 131.1 271.1 129.1 274.9 143.6 275.6 149.6 275.7 132.7 277.1 147.8 272.8 137.1 283.1 133.9 280.2 136.0 275.9 136.3 275.6 142.0 267.8 128.9 274.3 127.2 271.4 129.2 276.3 126.1 275.2 132.7 283.0 126.6 267.1 126.8 270.2 131.0 280.3 131.5 275.5 135.8 279.9 127.7 271.8 136.4 284.6 132.3 272.2 141.2 277.1 136.6 287.3 131.9 281.1 148.7 274.0 151.2 281.0 138.8 285.4 138.2 262.1 138.5 275.9 127.5 281.0 133.3 271.7 150.9 283.7 146.7 287.4 128.7 287.9 130.4 270.8 139.2 274.9 147.9 274.9 141.1 276.9 132.2 275.4 134.2 278.0 136.1 282.0 135.2 278.7 147.5 279.9 139.1 280.7 144.5 281.7 136.9 275.9 134.6 277.1 127.4 269.9 129.7 285.5 138.7 283.1 135.6 279.0 131.8 265.6 135.4 274.1 133.1 268.8 140.8 281.6 140.5 283.4 131.8 280.5 136.6 274.2 137.1 271.4 134.9 276.9 125.7 285.8 143.2 281.7 148.0 280.9 140.8 286.7 134.0 269.2 143.0 275.6 143.6 280.9 132.6 276.7 130.0 277.3 136.0 281.8 149.0 278.6 135.3 277.8 136.5 274.4 138.6 270.5 131.8 278.5 143.1 280.1 135.3 283.6 139.1 287.2 140.3 277.0 129.4 284.5 143.4 285.1 133.6 270.7 145.8 277.1 121.6 280.9 129.0 285.3 144.0 265.5 139.2 277.0 141.0 269.9 128.0 282.3 124.5 276.5 139.8 281.4 139.3 290.5 144.7 276.1 136.2 272.7 138.3 289.5 141.6 276.5 136.6 272.5 139.4 270.5 141.8 275.7 133.1 278.8 134.0 276.8 132.3 279.8 126.2 276.4 140.6 282.1 140.5 284.7 138.6 292.2 133.7 265.1 136.8 266.9 127.5 281.0 125.5 277.3 142.5 283.9 138.4 268.7 130.6 285.4 147.1 274.4 142.5 281.4 134.7 283.1 131.2 280.4 140.8 276.0 133.3 286.1 131.8 271.7 127.9 275.6 135.7 272.1 144.1 277.7 140.7 268.7 134.9 286.3 143.8 279.8 144.5 281.4 139.1 279.5 140.2 274.8 138.3 277.1 152.5 280.0 141.1 280.1 138.0 275.4 142.5 268.7 144.3 286.4 136.0 275.2 150.2 276.4 133.9 283.1 130.4 265.1 137.5 274.4 132.5 273.1 133.5 275.7 122.8 282.1 135.3 275.2 135.4 282.3 139.4 290.6 123.5 282.3 141.1 276.7 136.5 277.3 139.9 275.0 132.7 283.1 137.3 282.3 131.5 273.0 136.6 287.3 140.2 283.8 135.0 273.1 140.0 271.0 147.8 274.2 132.2 270.9 128.7 276.9 133.4 279.1 134.1 279.9 138.6 283.7 141.9 273.9 145.2 273.8 131.3 282.4 129.0 273.0 127.2 268.1 139.0 271.5 147.9 285.8 139.4 273.1 136.9 275.5 144.4 265.7 136.0 277.5 139.6 281.2 134.5 280.7 129.4 283.7 139.5 276.3 144.3 272.7 126.0 280.0 137.6 275.0 132.6 279.8 142.7 271.5 127.9 281.1 130.0 284.6 146.2 273.6 152.0 275.5 136.5 276.4 139.9 282.0 139.3 272.9 134.9 267.8 130.4 278.0 137.0 273.6 138.5 272.6 136.8 277.4 143.4 283.1 130.5 274.7 123.2 276.5 126.9 277.2 138.3 280.6 132.9 281.1 132.4 271.3 131.7 272.3 147.8 282.2 141.0 264.9 136.3 280.7 125.5 282.7 129.9 276.8 138.5 276.2 136.8 279.7 144.5 286.0 145.8 277.8 123.9 270.3 133.8 280.7 144.6 274.7 132.6 277.5 138.3 281.1 141.9 275.7 120.9 274.4 139.3 290.3 130.2 279.4 140.5 272.9 133.3 281.2 138.6 273.6 136.2 281.0 135.7 272.6 139.5 276.2 137.8 270.0 136.7 274.8 127.6 286.2 138.0 278.5 142.7 285.4 143.7 273.0 138.5 273.5 135.6 279.4 144.8 270.7 142.1 279.4 136.4 284.3 136.7 279.3 142.9 277.4 137.2 284.6 139.1 266.5 127.8 280.3 130.6 268.5 144.6 267.4 126.5 278.1 144.9 282.0 129.7 281.7 130.5 278.9 139.5 276.1 146.1 282.3 150.7 273.7 143.2 280.8 135.8 280.2 137.7 281.3 135.9 277.6 132.2 274.6 138.5 279.0 139.7 282.5 132.3 272.5 126.2 285.0 149.8 279.4 141.3 272.5 138.0 285.8 139.3 268.6 139.1 277.2 143.0 287.2 137.6 280.3 143.7 272.0 135.8 267.2 139.0 281.6 139.6 280.0 132.4 272.2 145.7 281.3 135.0 281.0 132.3 271.3 139.6 276.8 139.3 291.6 140.1 278.4 150.8 272.5 134.2 280.5 166.4 276.5 159.6 286.4 143.1 275.3 147.0 282.6 139.3 280.2 137.7 279.6 145.3 261.5 141.9 278.3 144.0 276.5 138.9 268.7 145.6 271.0 143.5 268.3 138.6 289.2 168.6 273.4 146.4 261.9 141.9 280.4 149.4 273.0 143.9 266.8 151.2 281.4 137.7 274.2 155.7 277.8 137.8 281.6 138.1 286.5 145.6 260.3 137.7 280.8 162.4 277.5 143.0 292.4 133.6 282.7 131.6 261.3 135.7 281.0 148.0 273.2 149.6 269.3 159.7 275.5 150.6 264.7 145.0 265.4 152.0 262.3 152.5 282.8 150.9 284.5 159.8 272.5 141.2 271.1 145.6 273.1 143.6 287.9 146.3 271.4 159.3 266.1 145.0 278.9 151.7 265.0 133.1 265.4 138.0 283.6 144.8 277.3 137.8 270.6 151.4 277.3 142.9 282.0 140.2 270.4 141.5 270.0 152.9 263.4 149.4 260.4 129.6 274.5 148.1 273.5 126.8 283.5 155.5 268.1 157.4 270.0 145.9 268.6 136.2 263.0 142.9 279.6 142.1 279.3 153.3 286.0 154.9 275.0 148.0 273.7 137.9 265.5 161.1 267.9 150.7 285.9 147.6 270.5 149.2 286.5 137.1 268.0 141.1 280.6 153.0 270.5 146.4 281.5 135.0 273.8 149.6 280.0 151.9 264.1 145.1 270.4 147.8 278.0 144.8 276.6 154.4 275.2 164.3 270.0 129.7 273.3 137.3 257.2 135.8 271.7 141.6 277.5 151.2 279.3 135.2 280.2 160.2 272.9 143.6 278.3 151.1 274.9 149.3 267.5 129.5 270.1 141.9 274.0 140.6 267.5 147.3 278.3 205.7 271.4 214.2 271.4" marker-start="url(#mg)" marker-mid="url(#mg)" marker-end="url(#mg)"/>
<path d="M74.5 335.8 80.1 338.8 81.0 326.2 76.5 329.8 84.5 332.6 78.8 326.4 81.7 314.5 80.3 320.8 76.6 326.9 71.3 329.7 80.1 334.7 84.4 326.4 74.4 331.5 93.5 324.2 78.2 329.2 77.9 326.8 74.7 335.5 78.0 325.9 79.9 312.0 80.9 322.2 82.5 329.5 76.6 331.6 71.3 336.9 75.9 314.6 80.0 314.8 86.8 337.6 72.2 324.9 71.9 318.7 73.8 327.8 70.0 337.4 80.3 321.0 92.6 320.5 91.4 322.3 86.3 333.8 76.7 340.3 89.6 320.0 80.8 315.5 91.6 313.1 80.7 321.0 77.3 336.0 81.6 336.2 80.3 336.6 72.8 322.6 87.5 311.0 73.4 328.1 72.9 341.1 92.6 323.5 82.4 323.2 75.0 327.2 88.5 316.3 77.0 330.0 80.3 333.3 87.4 328.3 72.9 324.9 73.6 338.9 83.0 336.8 81.4 316.1 79.3 317.5 86.8 320.6 72.5 323.5 79.8 324.6 77.9 321.7 85.5 320.3 83.9 327.2 84.8 331.2 92.5 316.2 88.1 324.8 78.7 341.3 87.0 331.3 71.5 323.1 78.6 325.1 87.5 334.2 74.3 332.0 82.6 337.9 89.5 333.3 72.6 342.1 74.0 344.2 87.4 328.8 85.9 329.7 79.5 314.6 86.8 329.2 84.8 322.2 87.4 318.1 71.2 340.2 78.7 321.3 77.3 341.9 82.9 321.3 73.3 321.5 79.5 313.2 77.9 324.4 71.8 326.1 73.9 329.6 73.0 328.0 84.2 321.4 69.7 324.0 73.5 318.7 81.3 325.1 74.0 342.9 78.4 342.2 77.7 329.1 77.4 324.9 73.0 317.1 73.2 335.2 85.7 331.3 70.8 343.0 83.0 315.9 78.0 325.6 69.2 335.9 83.6 315.7 79.3 334.4 80.2 323.0 83.0 324.9 82.7 314.9 76.6 324.3 89.6 333.9 82.1 325.5 82.0 323.3 87.5 308.1 85.5 326.7 77.8 312.5 82.0 314.9 71.4 327.9 78.2 326.1 74.4 327.3 91.7 320.8 73.2 320.9 75.3 340.8 83.2 337.4 82.6 339.8 81.2 329.8 71.6 325.5 76.4 333.1 73.7 318.3 75.5 319.7 80.4 324.7 85.4 318.1 76.9 319.0 84.0 328.9 72.6 335.7 82.7 317.7 69.0 326.5 76.1 317.9 73.4 332.4 74.2 318.1 80.5 337.5 72.3 318.1 77.4 338.3 78.8 320.5 79.8 331.7 74.6 327.4 76.1 331.2 81.6 318.7 79.0 327.7 88.4 321.9 74.1 328.9 89.5 309.5 82.1 325.7 86.9 310.5 91.8 323.8 75.2 318.7 78.1 340.5 79.8 326.9 74.2 342.3 77.9 320.6 82.3 319.2 78.2 311.3 68.4 335.3 74.1 332.8 82.8 330.8 84.4 333.7 78.7 323.1 87.2 312.5 73.2 316.9 74.2 339.3 89.3 317.8 69.6 323.0 81.1 339.5 78.3 335.0 85.4 310.4 87.9 334.4 83.8 323.5 88.4 327.6 81.2 329.5 90.2 313.0 78.5 322.2 81.8 326.7 77.3 329.4 79.1 337.9 87.7 322.4 80.6 322.8 74.0 332.3 73.0 338.7 89.8 313.6 72.1 316.1 87.3 324.4 79.1 318.7 85.0 319.7 89.5 320.1 85.7 328.3 80.8 322.7 73.0 343.9 70.9 334.8 84.8 324.0 72.9 320.5 86.2 316.5 80.0 327.9 75.4 318.1 71.1 325.9 87.2 321.9 78.0 342.3 89.7 329.8 83.0 329.9 87.0 325.8 86.7 325.4 87.0 310.8 72.5 342.5 89.2 314.7 72.6 338.5 78.3 327.4 89.5 327.3 80.6 337.5 68.3 325.1 91.1 313.9 84.1 327.4 73.7 333.9 79.8 320.1 69.7 318.1 71.9 319.6 79.7 312.3 74.7 311.5 83.3 329.3 79.2 310.9 69.7 339.2 78.5 323.0 83.5 331.9 73.9 342.1 73.8 334.6 77.9 325.3 77.7 336.2 86.1 323.6 88.3 310.2 83.1 312.4 85.7 322.4 80.7 317.5 74.7 317.1 78.9 327.9 79.7 325.3 78.3 327.3 84.6 316.3 83.4 334.5 70.3 322.8 77.3 317.3 76.5 321.7 91.3 324.0 90.7 320.0 79.9 324.6 88.7 323.8 86.7 326.1 77.9 334.3 82.0 318.3 81.4 332.2 85.3 322.3 75.9 327.0 84.2 327.0 88.0 319.5 79.7 324.5 82.8 314.9 89.0 319.8 70.4 332.2 84.1 324.1 84.1 316.5 86.9 325.7 85.7 310.7 90.1 331.6 83.0 336.5 81.7 327.9 81.2 341.0 83.8 313.3 89.8 331.5 80.0 324.6 90.4 327.6 78.6 338.0 77.7 325.3 67.8 327.7 70.8 338.8 74.6 336.8 92.0 318.1 76.1 337.7 84.2 338.3 78.8 331.0 75.7 317.7 72.9 320.1 91.5 329.8 80.9 324.7 79.0 338.0 80.0 310.6 79.1 309.6 76.6 319.8 79.8 330.6 83.2 316.4 73.3 329.9 86.7 332.0 80.4 316.9 84.6 326.9 76.0 317.7 76.1 338.0 89.1 319.2 81.3 339.8 70.2 325.3 78.3 329.8 68.1 334.6 69.4 338.3 79.3 321.6 85.9 323.7 73.2 336.9 77.9 329.3 89.1 309.0 84.8 331.9 82.5 325.2 77.4 311.3 89.2 310.5 87.1 330.8 85.7 314.7 79.3 322.8 73.6 331.6 72.3 327.3 90.0 320.7 78.6 333.5 71.0 332.4 88.0 327.9 74.4 335.8 76.8 334.3 72.7 318.5 90.7 319.5 78.4 314.5 76.1 340.6 83.3 324.0 82.7 335.1 76.6 331.9 75.5 314.0 77.1 325.8 75.4 310.8 70.0 323.8 86.3 326.8 83.0 317.7 85.4 322.8 86.9 315.2 75.0 319.3 74.9 319.6 83.1 319.9 68.4 325.7 74.5 311.9 80.5 326.3 79.2 339.0 68.5 335.7 81.2 315.6 88.5 310.9 80.6 330.4 76.9 320.2 85.8 333.5 75.8 338.9 81.8 313.8 85.1 322.3 76.4 330.4 82.1 317.5 75.7 333.1 84.9 339.6 79.3 327.3 81.5 329.3 88.9 328.8 79.7 324.4 75.9 330.6 80.2 309.7 76.8 343.3 88.3 298.7 72.4 335.9 63.0 336.1 99.6 327.5 68.1 337.0 57.3 334.3 54.3 329.1 55.4 326.2 74.4 344.2 84.8 351.9 96.5 323.3 88.4 311.2 80.2 321.0 67.2 346.4 71.6 335.8 75.9 342.5 85.7 303.9 89.3 340.6 87.5 347.9 73.0 321.4 74.6 310.6 67.5 348.7 71.5 321.0 96.5 330.1 73.7 320.8 77.4 330.2 93.7 328.8 68.6 329.6 62.7 326.3 101.5 302.0 73.8 342.1 82.9 323.2 70.5 319.6 89.2 323.3 84.3 336.0 61.5 310.1 85.5 339.7 80.1 339.3 60.5 330.2 73.3 322.8 73.5 344.6 75.3 313.7 83.9 307.7 90.7 313.5 97.3 326.6 64.2 331.2 78.1 336.5 61.8 346.3 67.5 306.1 76.9 317.7 80.4 349.4 78.0 352.0 82.7 345.9 97.0 340.3 79.9 346.7 92.9 327.7 68.6 341.0 85.8 306.2 65.3 350.4 77.0 340.3 76.1 311.0 86.7 305.4 107.4 306.7 82.3 312.4 60.6 333.7 80.0 315.2 73.4 318.7 67.3 308.4 82.7 327.0 78.9 323.2 100.5 310.5 73.3 353.5 83.9 318.6 69.2 324.6 76.0 327.8 99.1 301.6 81.4 336.9 88.8 321.3 70.1 336.5 88.5 323.3 74.7 348.9 76.7 327.6 97.8 321.9 80.1 324.6 100.1 320.4 98.4 333.0 80.9 341.7 72.6 358.4 70.3 336.4 92.3 328.5 96.1 343.4 65.5 328.7 87.1 328.2 77.4 335.1 69.6 324.0 95.5 327.1 65.2 314.8 83.5 349.7 61.7 332.8 97.4 306.6 68.8 306.2 86.6 301.4 80.7 328.1 72.0 324.1 74.5 335.0 70.1 319.2 64.7 347.8 97.7 329.2 59.2 335.5 86.5 339.3 79.4 316.2 107.0 318.7 69.8 337.4 94.8 317.8 86.9 328.8 77.3 324.4 78.3 310.8 65.6 337.8 75.0 325.2 78.5 300.4 58.5 355.7 66.4 326.4 86.3 321.1 78.2 300.2 64.0 336.3 81.8 342.0 66.3 351.2 76.6 355.3 75.2 354.6 70.9 355.5 72.5 353.6 71.9 357.4 66.9 349.0 67.3 355.7 74.2 363.7 72.8 352.0 68.0 365.3 71.7 351.0 72.9 357.4 71.4 354.6 164.4 321.3 192.8 319.0 43.0 343.4 58.0 331.0 68.0 366.0" marker-start="url(#my)" marker-mid="url(#my)" marker-end="url(#my)"/>
<clipPath id="cc"><rect x="0" y="200" width="275.9" height="216"/></clipPath><g clip-path="url(#cc)">
<line x1="50.60" y1="374.60" x2="50.60" y2="376.80" class="tk"/>
<text x="50.60" y="382.70" class="tl" text-anchor="middle">0.00250</text>
<line x1="77.65" y1="374.60" x2="77.65" y2="376.80" class="tk"/>
<text x="77.65" y="382.70" class="tl" text-anchor="middle">0.00275</text>
<line x1="104.70" y1="374.60" x2="104.70" y2="376.80" class="tk"/>
<text x="104.70" y="382.70" class="tl" text-anchor="middle">0.00300</text>
<line x1="131.75" y1="374.60" x2="131.75" y2="376.80" class="tk"/>
<text x="131.75" y="382.70" class="tl" text-anchor="middle">0.00325</text>
<line x1="158.80" y1="374.60" x2="158.80" y2="376.80" class="tk"/>
<text x="158.80" y="382.70" class="tl" text-anchor="middle">0.00350</text>
<line x1="185.85" y1="374.60" x2="185.85" y2="376.80" class="tk"/>
<text x="185.85" y="382.70" class="tl" text-anchor="middle">0.00375</text>
<line x1="212.90" y1="374.60" x2="212.90" y2="376.80" class="tk"/>
<text x="212.90" y="382.70" class="tl" text-anchor="middle">0.00400</text>
<line x1="239.95" y1="374.60" x2="239.95" y2="376.80" class="tk"/>
<text x="239.95" y="382.70" class="tl" text-anchor="middle">0.00425</text>
<line x1="267.00" y1="374.60" x2="267.00" y2="376.80" class="tk"/>
<text x="267.00" y="382.70" class="tl" text-anchor="middle">0.00450</text>
</g>
<line x1="25.70" y1="346.11" x2="27.90" y2="346.11" class="tk"/>
<text x="24.20" y="348.71" class="tl" text-anchor="end">0.1</text>
<line x1="25.70" y1="312.84" x2="27.90" y2="312.84" class="tk"/>
<text x="24.20" y="315.44" class="tl" text-anchor="end">0.2</text>
<line x1="25.70" y1="279.57" x2="27.90" y2="279.57" class="tk"/>
<text x="24.20" y="282.17" class="tl" text-anchor="end">0.3</text>
<line x1="25.70" y1="246.30" x2="27.90" y2="246.30" class="tk"/>
<text x="24.20" y="248.90" class="tl" text-anchor="end">0.4</text>
<rect x="168.40" y="333.50" width="99.10" height="37.80" rx="1.5" fill="#fff" fill-opacity="0.8" stroke="#dcdcdc" stroke-width="0.7"/>
<circle cx="176.00" cy="338.40" r="1.3" fill="none" stroke="#d63a2f" stroke-width="0.6" stroke-opacity="0.8"/>
<text x="187.80" y="340.90" class="lg">spectre-v1</text>
<circle cx="176.00" cy="347.60" r="1.3" fill="none" stroke="#18202e" stroke-width="0.6" stroke-opacity="0.8"/>
<text x="187.80" y="350.10" class="lg">evasive-spectre-nop</text>
<circle cx="176.00" cy="356.70" r="1.3" fill="none" stroke="#6aae8f" stroke-width="0.6" stroke-opacity="0.8"/>
<text x="187.80" y="359.20" class="lg">evasive-sepctre-memory</text>
<circle cx="176.00" cy="365.60" r="1.3" fill="none" stroke="#f4c65c" stroke-width="0.6" stroke-opacity="0.8"/>
<text x="187.80" y="368.10" class="lg">normal</text>
<text x="148.8" y="389.8" class="al" text-anchor="middle">branch miss rate</text>
<text transform="translate(7.9,293) rotate(-90)" class="al" text-anchor="middle">LLC miss rate</text>
<text x="141.3" y="409.5" class="cap" text-anchor="middle">(<tspan font-weight="bold">c</tspan>) with CPU stress test</text>
<rect x="305.20" y="213.50" width="242.30" height="161.10" fill="none" stroke="#989898" stroke-width="1.15"/>
<path d="M430.6 317.0 445.7 297.8 462.0 281.3 447.9 280.3 437.3 300.0 439.9 285.7 438.6 314.0 432.5 277.8 460.8 270.7 438.6 276.7 431.2 316.7 451.0 290.1 460.4 285.3 455.4 301.1 455.0 294.6 447.3 294.8 449.3 297.1 441.2 286.5 435.1 299.4 453.2 299.8 444.8 310.0 434.0 316.2 437.6 308.5 435.1 314.6 437.0 291.1 433.4 281.7 439.2 273.1 454.2 292.6 448.5 299.3 435.5 295.8 450.0 315.5 459.7 282.6 447.0 290.2 446.5 298.9 432.1 317.8 436.3 287.9 438.7 286.6 421.4 299.1 446.8 308.2 438.3 325.3 434.9 289.1 455.8 316.7 423.7 312.9 422.7 321.2 440.7 290.7 442.9 293.0 461.1 312.3 424.8 315.8 436.2 293.9 451.0 294.8 449.4 289.4 453.9 284.8 437.6 292.9 456.4 297.1 439.5 272.4 453.7 288.4 445.6 292.0 446.0 300.3 439.3 269.4 450.2 296.0 455.6 306.3 449.8 284.5 445.6 311.4 454.3 298.9 440.8 285.8 438.3 289.7 455.4 313.9 440.1 287.7 451.4 316.3 449.9 275.1 453.2 287.1 441.9 295.6 443.0 280.9 452.9 283.8 429.0 319.3 443.3 317.0 446.0 312.1 462.1 297.8 455.1 285.1 440.9 283.6 422.0 312.4 442.6 304.8 425.5 305.4 427.2 312.1 444.4 285.8 432.6 302.4 451.1 304.3 451.2 316.4 425.5 304.0 449.3 307.8 437.6 297.2 450.9 305.8 443.2 293.1 445.9 297.9 434.9 303.4 427.2 283.1 430.1 303.5 451.7 315.6 426.6 296.4 455.9 294.8 458.9 318.6 436.6 291.1 443.6 285.2 442.2 293.0 464.1 293.1 435.4 299.1 429.3 276.6 440.1 305.8 431.9 272.7 450.5 287.9 441.5 306.1 453.6 286.4 430.5 279.9 431.2 301.8 435.3 295.9 438.0 274.2 442.1 303.3 444.3 283.8 442.1 285.8 438.4 268.1 451.1 290.4 431.9 325.7 431.0 316.5 451.2 292.2 429.3 283.1 455.4 319.8 439.6 294.6 434.7 300.7 436.7 316.5 453.0 303.2 431.0 276.0 436.2 321.4 451.6 293.3 453.5 305.0 432.1 325.0 455.9 275.2 438.9 312.4 462.4 315.5 431.3 291.6 457.7 282.8 446.1 291.5 449.7 273.6 427.2 284.7 464.4 283.2 431.5 306.8 438.9 279.4 449.0 278.9 456.4 299.0 438.5 276.2 442.1 297.6 450.2 297.6 442.3 275.5 435.4 299.6 447.9 291.8 425.1 282.6 436.7 308.3 438.7 279.7 441.0 294.8 458.9 293.5 435.7 298.1 448.1 264.6 437.6 280.6 434.9 292.3 458.8 305.9 445.8 278.8 445.9 305.8 457.7 311.5 443.2 314.2 456.5 299.9 434.4 276.8 450.1 309.8 435.6 274.7 455.5 317.1 419.9 302.7 448.2 294.8 458.6 299.2 448.7 300.4 435.7 298.8 458.2 306.0 442.8 316.4 440.6 273.5 454.8 313.3 421.9 292.6 450.4 313.4 432.6 295.5 460.8 270.0 447.9 313.6 445.9 291.0 445.3 305.4 452.4 323.3 425.0 300.7 441.3 325.0 432.8 286.4 426.2 298.2 437.1 300.7 440.6 309.7 456.8 294.9 442.1 289.0 453.6 289.3 456.0 275.3 462.3 315.2 428.0 314.2 436.2 278.6 436.6 301.0 434.7 307.7 457.1 270.4 418.9 301.3 444.8 298.5 451.4 305.4 419.2 302.1 432.1 296.4 425.5 309.3 440.7 287.0 453.3 305.2 433.8 283.6 460.4 285.0 447.5 268.8 438.3 289.4 453.2 272.7 444.5 307.6 429.1 283.1 454.3 308.6 463.0 295.8 435.3 300.5 441.4 305.8 461.5 317.5 434.4 290.9 438.4 326.5 437.7 290.5 456.8 315.2 436.6 282.2 444.6 306.1 445.7 277.8 439.6 307.9 447.0 306.6 432.4 292.7 439.4 307.3 447.9 288.9 440.7 310.1 441.3 272.8 448.2 267.9 446.5 311.1 449.8 309.7 444.3 311.0 444.1 283.1 447.2 299.3 453.9 315.2 460.1 279.4 446.8 326.5 436.6 287.9 437.4 289.3 433.4 327.1 436.8 301.3 430.8 278.6 454.4 284.6 444.5 324.7 444.4 289.0 437.4 267.7 442.1 315.5 453.1 291.5 437.8 294.0 428.2 308.1 446.9 320.3 430.8 328.9 457.0 310.4 440.4 310.3 439.2 315.8 442.7 284.9 440.5 282.4 451.8 292.1 443.5 319.6 435.8 307.5 436.6 310.9 453.7 296.8 447.9 286.6 437.4 268.2 437.2 294.5 433.6 326.4 444.3 318.2 447.5 279.4 441.0 295.6 437.5 314.6 451.0 291.0 448.9 282.2 437.3 321.3 456.3 310.8 462.4 294.9 440.1 303.8 455.5 319.6 443.6 297.6 457.4 304.9 445.9 285.7 441.6 301.0 446.1 298.3 456.1 297.9 440.7 293.5 447.6 306.4 450.1 306.0 437.2 320.5 451.7 308.1 434.0 292.3 454.4 311.9 436.2 288.9 449.7 319.0 448.2 282.7 447.1 285.5 456.2 292.5 436.8 286.0 440.9 324.8 437.4 332.9 450.8 315.9 443.4 276.7 454.9 277.5 456.5 310.5 441.8 284.4 434.5 310.4 426.1 318.8 448.1 281.6 438.2 293.3 431.5 299.9 450.2 293.8 435.3 257.9 438.4 270.3 455.7 257.9 440.3 248.7 471.8 236.6 456.1 287.4 436.3 256.1 443.0 284.2 446.3 249.3 464.0 238.7 429.8 279.9 454.0 257.2 449.6 268.7 453.2 281.6 462.1 276.9 463.6 285.6 457.7 259.5 457.5 268.7 463.4 237.6 460.0 267.6 447.7 244.7 453.4 253.0 429.2 232.2 446.6 249.7 473.3 276.5 451.4 277.4 446.2 235.6 424.2 258.8 457.8 277.8 450.1 252.6 443.8 275.7 449.5 275.6 445.8 233.1 469.4 249.2 466.1 239.1 436.3 254.4 469.9 247.1 445.6 276.3 469.5 250.6 455.2 288.5 465.5 265.2 468.0 244.9 464.9 230.4 436.4 279.6 464.7 254.3 435.0 254.1 441.3 289.5 456.8 266.9 459.7 265.8 443.2 245.5 445.0 232.4 442.5 249.3 458.1 264.5 434.2 233.3 426.0 246.0 441.3 246.2 461.5 260.9 463.3 263.5 456.8 277.3 450.1 247.6 476.7 258.9 445.7 239.2 462.0 241.5 458.1 293.0 424.4 250.0 435.9 237.2 464.5 275.9 459.2 267.4 444.5 262.0 462.9 274.9 444.9 266.9 440.9 228.5 450.3 243.0 452.3 247.4 461.5 287.2 442.7 241.1 449.7 260.5 444.3 229.2 455.3 259.8 449.5 245.4 450.8 253.4 437.6 259.6 447.3 264.8 447.1 266.7 427.1 257.0 449.3 267.4 446.0 262.4 453.7 251.1 427.2 240.4 454.4 270.1 444.1 242.6 448.8 244.7 431.7 274.9 434.6 282.5 453.9 291.5 473.4 238.2 439.7 247.5 457.6 263.5 443.7 263.2 425.0 260.6 456.2 265.7 440.5 261.6 434.3 271.6 437.4 267.7 446.9 291.8 469.4 252.5 449.3 243.0 438.7 281.0 447.2 244.9 459.0 244.5 454.9 248.5 455.8 252.8 462.6 258.6 442.8 282.7 436.4 264.7 458.3 270.0 447.2 249.6 450.4 240.6 461.6 279.1 445.3 260.4 430.5 246.3 470.3 260.9 455.8 269.0 468.7 278.6 460.8 275.5 430.6 268.4 439.9 267.9 451.9 260.0 459.9 263.2 453.2 268.7 447.5 247.3 439.8 260.4 451.5 271.5 444.8 283.5 428.8 248.7 452.3 267.9 456.2 251.6 443.5 243.5 452.2 264.4 450.5 266.4 450.0 282.3 441.8 246.9 458.2 264.2 456.5 257.4 430.1 263.2 439.2 271.6 455.3 258.7 443.5 276.2 449.5 228.7 464.3 264.2 438.5 251.3 461.5 274.5 452.2 277.9 478.1 259.3 460.6 268.7 460.5 283.8 441.9 237.0 444.0 246.3 440.6 272.4 463.7 239.9 448.7 254.8 433.1 258.2 463.7 257.2 457.5 245.4 451.4 226.1 438.6 239.4 434.5 259.2 446.3 254.4 466.8 266.4 455.5 269.7 452.8 278.6 457.7 249.9 446.3 269.9 438.9 257.4 449.8 252.6 448.3 266.0 456.9 271.0 464.1 226.4 431.8 272.4 456.2 247.6 461.1 243.8 433.2 264.2 455.8 270.8 462.7 246.2 448.6 257.1 473.3 252.9 469.2 259.6 466.8 251.1 433.0 241.3 466.9 240.7 458.2 279.3 454.5 262.4 451.0 276.4 444.1 275.4 453.3 267.6 443.1 282.5 460.5 245.1 451.4 252.3 456.7 273.5 424.1 267.1 465.9 266.9 449.2 272.7 436.8 246.8 440.5 236.0 455.0 262.9 456.2 274.5 444.3 258.1 432.8 237.8 429.3 276.0 455.0 237.0 443.8 235.3 455.3 287.5 448.7 255.1 441.1 242.9 442.7 241.3 444.7 261.9 441.9 292.1 445.1 279.4 475.8 248.3 469.0 268.1 435.2 250.1 455.0 244.0 449.1 250.8 444.0 254.3 443.9 250.3 440.9 257.3 445.1 246.2 455.6 259.7 470.5 279.3 442.1 228.2 454.6 274.2 459.6 259.4 449.4 256.3 446.6 260.5 457.6 250.5 431.2 264.1 440.1 261.4 444.0 223.6 446.8 256.1 480.5 273.1 463.7 286.1 476.9 297.7 473.6 309.9 478.1 292.7 468.2 286.8 460.8 291.0 485.5 292.0 488.6 286.8 466.7 312.1 459.9 285.1 457.0 292.1 461.7 278.9 463.8 281.9 479.9 313.3 485.0 277.0 474.9 288.2 473.9 298.2 468.8 284.7 464.4 284.0 477.0 266.0 490.6 309.6 463.0 310.4 477.9 275.2 463.1 298.8 463.7 295.5 467.4 317.3 457.9 316.9 464.9 295.9 458.5 273.0 468.8 306.1 477.5 321.5 475.2 313.3 481.7 281.6 475.9 299.2 467.1 295.0 473.9 281.0 468.6 281.4 489.2 297.3 483.0 298.8 483.4 284.3 475.1 272.2 475.7 296.9 460.3 300.9 463.4 284.4 468.5 269.5 454.8 311.1 470.4 296.2 475.2 289.1 466.4 292.7 479.4 298.7 487.1 297.8 467.6 305.8 455.3 293.6 475.8 324.6 465.0 289.1 471.8 269.8 470.2 286.4 467.1 296.1 491.7 284.7 479.9 295.7 468.4 304.0 487.0 305.1 475.2 301.4 467.2 308.9 475.8 288.9 466.4 297.8 458.3 284.1 489.6 299.6 461.3 290.1 491.5 305.2 476.7 287.4 473.0 306.4 485.1 299.4 473.5 304.0 456.6 294.4 476.0 312.5 462.0 283.3 461.1 319.0 475.3 306.6 482.8 291.0 453.1 296.9 478.3 289.4 476.2 296.2 475.7 300.7 484.7 272.1 475.2 319.1 476.0 272.9 473.6 291.7 471.2 301.7 498.0 274.5 535.6 284.0 390.0 273.5 462.0 342.0" marker-start="url(#mr)" marker-mid="url(#mr)" marker-end="url(#mr)"/>
<path d="M408.2 319.5 404.2 312.6 394.8 340.1 401.6 331.1 402.8 310.3 407.4 332.1 407.3 340.0 401.5 325.3 398.9 320.0 398.4 315.7 399.5 325.2 398.1 317.8 398.1 309.6 398.0 321.8 404.5 334.1 406.9 322.1 400.1 321.1 401.9 311.9 405.4 323.7 401.1 314.4 409.4 339.8 396.5 341.5 400.7 331.2 393.0 324.9 408.0 323.2 408.3 326.1 408.4 344.3 397.5 325.4 397.2 304.2 396.9 328.0 407.2 330.2 403.8 322.2 398.0 323.8 400.8 301.7 408.1 318.7 394.4 329.3 404.4 342.0 399.3 314.7 408.2 319.8 408.6 328.8 393.4 312.0 395.3 336.7 406.4 329.4 395.1 326.7 401.8 334.8 405.1 313.1 401.8 311.6 399.9 316.6 399.2 324.3 413.0 312.9 409.3 333.0 397.3 319.3 397.1 323.5 396.0 327.1 403.3 329.9 401.0 321.6 398.3 335.2 402.9 334.5 397.3 324.3 401.8 312.2 399.4 305.6 397.0 345.5 402.6 309.1 406.1 335.1 413.3 329.7 407.5 325.4 397.5 326.1 400.8 310.4 412.3 321.3 396.8 319.6 407.9 321.4 398.2 337.2 397.8 331.7 402.6 317.7 408.3 331.3 406.9 324.1 400.5 320.7 402.7 349.5 401.8 335.4 409.2 305.3 412.4 312.3 401.6 314.4 398.5 311.3 400.1 339.1 395.6 334.7 405.0 331.7 405.1 332.8 406.7 313.0 393.8 334.4 405.3 340.9 402.8 321.8 397.1 303.8 404.1 339.5 401.5 332.2 407.1 307.1 404.0 312.2 403.5 329.9 400.8 323.2 408.7 345.2 396.8 319.8 398.1 312.7 405.2 317.4 408.9 335.9 401.7 312.8 402.8 323.4 398.6 336.8 401.5 312.5 405.8 308.3 408.6 321.4 410.5 324.6 393.8 316.8 404.0 318.2 401.0 329.0 393.8 318.3 395.9 323.6 406.0 321.9 396.3 317.9 399.1 327.2 405.0 326.7 405.9 313.6 395.7 307.6 406.6 325.0 396.6 330.1 399.6 317.6 396.6 324.8 403.9 325.3 400.6 321.0 401.4 319.4 399.2 325.6 399.6 320.3 399.5 313.8 392.6 316.4 402.3 325.0 408.3 338.4 402.1 325.0 399.4 323.5 396.5 318.2 402.4 329.6 398.4 317.9 407.1 320.7 403.6 332.4 402.6 319.4 409.2 319.6 403.8 314.0 411.6 318.3 411.1 319.6 400.6 309.5 395.7 323.9 407.0 316.3 401.7 332.1 401.6 316.8 402.7 321.9 400.0 330.9 391.4 339.3 403.4 311.7 404.6 324.1 408.2 332.0 401.5 329.4 410.4 338.5 404.9 324.1 398.2 327.8 406.1 325.6 391.3 319.8 399.0 324.6 401.2 322.6 401.1 331.4 397.5 325.5 397.9 330.2 404.1 325.4 407.2 329.4 408.8 310.1 402.6 316.6 409.8 328.6 400.8 332.8 401.6 325.2 400.9 334.8 402.7 336.8 398.1 325.0 397.4 332.5 401.7 313.7 406.7 332.7 402.3 317.3 404.1 339.8 397.4 307.2 402.2 310.5 393.4 326.5 404.8 332.0 404.5 330.2 403.0 338.8 400.7 317.4 410.8 330.6 402.1 325.5 399.5 315.9 392.8 306.7 405.1 319.6 398.5 318.6 405.8 337.9 402.2 314.6 399.4 321.3 406.1 325.0 406.5 310.9 404.3 341.0 404.7 321.0 404.3 333.6 404.2 334.4 394.1 326.9 403.9 328.0 402.4 322.9 404.5 312.0 399.5 321.6 404.4 323.5 398.7 332.8 404.0 325.1 405.0 325.6 409.2 322.6 397.1 328.0 405.3 332.0 405.7 323.0 410.9 318.2 399.0 330.8 398.8 335.7 397.8 326.0 403.5 319.5 393.0 326.8 404.0 324.0 399.9 311.5 399.0 306.5 411.7 320.7 409.1 322.8 410.6 318.3 398.7 316.4 403.0 315.4 395.0 338.7 409.7 317.7 407.4 301.4 403.7 343.5 413.2 331.7 408.7 326.7 410.8 320.6 390.0 335.1 403.4 324.7 406.1 330.9 395.5 325.6 399.0 321.6 408.8 323.6 399.5 325.5 402.0 325.0 407.3 324.6 400.5 322.3 397.2 338.2 406.1 306.3 402.1 336.5 394.0 320.7 412.3 328.3 406.9 314.9 411.1 329.9 410.1 315.0 399.8 315.4 404.7 315.1 403.2 339.2 407.2 318.3 405.5 315.1 407.0 313.1 406.6 334.2 395.7 333.9 410.0 339.9 410.6 331.5 406.7 318.8 413.2 326.1 408.5 331.4 403.3 314.4 406.7 326.7 398.1 340.5 405.2 321.0 400.4 338.3 401.1 321.7 392.9 323.0 400.0 334.5 410.5 336.0 395.0 328.5 411.1 323.1 402.3 324.9 395.5 321.6 402.4 327.6 403.8 325.7 401.2 344.5 410.2 333.0 404.7 340.0 399.1 333.5 407.5 324.5 394.1 310.7 410.3 314.7 407.2 323.9 401.1 328.8 410.5 333.2 410.3 315.5 400.2 337.3 403.4 322.6 395.4 321.1 400.5 330.7 402.7 308.3 392.8 336.0 395.8 310.5 396.1 319.4 404.9 324.6 399.5 320.5 398.6 322.3 399.3 325.9 397.3 320.9 404.3 315.7 400.3 329.8 401.6 321.6 401.7 325.7 388.6 327.3 401.6 342.3 394.6 336.5 401.9 321.0 403.3 324.0 395.7 327.7 405.5 313.6 406.4 325.4 405.8 329.2 403.1 341.5 402.5 309.7 406.9 308.0 402.8 321.1 413.9 316.2 390.0 313.6 399.8 331.9 393.3 322.9 401.7 320.5 407.7 320.9 390.6 321.8 397.9 320.3 404.4 299.9 401.8 324.8 395.7 303.6 408.9 331.6 393.5 316.0 397.5 320.3 395.4 329.1 402.8 332.2 401.8 339.0 396.4 330.6 405.7 322.8 404.5 320.4 394.8 321.4 407.0 301.5 411.1 309.6 406.0 311.7 405.9 315.9 403.4 324.6 402.6 327.8 401.7 320.4 409.2 319.6 402.0 329.3 398.0 319.8 402.8 324.1 401.5 319.2 403.7 329.7 394.7 315.7 401.8 325.5 406.5 328.1 399.6 313.8 404.2 316.6 396.8 331.6 398.7 319.4 403.3 300.8 412.7 322.5 402.9 333.0 402.8 326.7 399.9 314.9 409.1 329.2 403.0 317.9 414.4 320.0 391.5 328.4 399.0 323.5 402.4 320.8 394.9 328.6 403.7 315.5 406.3 329.9 397.1 323.7 406.9 323.6 408.9 325.6 404.1 327.6 405.5 330.0 396.3 328.0 390.9 326.6 410.7 317.4 405.9 315.1 407.8 322.0 399.1 327.6 408.2 309.3 401.0 326.2 403.9 316.0 402.1 317.1 407.4 327.5 411.1 317.2 398.4 326.3 408.9 326.6 401.0 307.2 400.5 326.6 408.6 310.0 405.4 327.6 414.3 335.6 394.1 318.6 401.4 317.3 399.7 310.2 400.0 315.4 401.0 318.9 403.4 324.4 402.5 321.9 395.1 321.8 409.3 323.6 402.7 328.6 402.7 317.9 400.8 314.4 396.8 323.7 399.7 313.0 403.3 329.7 413.5 349.8 401.1 340.4 396.2 335.5 415.8 318.5 390.7 328.1 399.6 340.6 419.7 336.8 411.5 315.2 402.3 331.5 398.4 338.8 397.5 329.4 404.3 330.5 389.0 328.8 400.3 310.3 402.4 312.4 411.1 299.1 411.1 344.3 403.6 324.2 403.8 330.7 407.1 315.1 409.9 326.1 398.8 329.2 409.3 320.2 416.2 314.0 395.2 350.8 409.3 322.0 405.2 305.8 394.9 307.2 400.7 317.0 411.8 324.4 411.8 325.0 390.9 330.1 390.3 332.8 413.3 315.8 417.1 334.0 405.1 326.5 403.8 341.2 406.1 339.8 413.4 318.7 408.9 325.0 420.0 320.0 404.8 325.9 394.5 320.7 406.8 303.8 413.5 312.6 419.7 335.5 405.9 328.6 392.6 305.3 417.3 331.1 401.7 322.0 415.9 335.7 402.2 315.7 411.1 326.1 408.2 325.2 403.3 346.3 412.0 320.5 412.1 332.3 390.4 323.2 409.4 336.1 404.9 334.2 394.6 274.0 513.0 322.0" marker-start="url(#mk)" marker-mid="url(#mk)" marker-end="url(#mk)"/>
<path d="M317.4 308.4 328.4 340.9 331.9 321.6 328.3 330.0 327.0 333.5 322.9 328.6 322.3 311.5 327.2 335.6 323.0 319.8 334.9 310.4 326.4 316.4 329.8 304.2 322.4 298.8 326.9 308.5 326.4 325.6 323.3 312.8 328.2 295.0 326.6 328.9 329.7 298.6 324.1 321.0 324.5 341.0 328.4 323.0 321.0 299.3 324.3 336.3 320.9 315.6 328.8 309.2 323.1 311.5 319.7 333.8 319.9 331.4 317.4 313.5 320.8 303.8 329.3 308.3 319.6 335.0 329.6 310.9 326.3 320.5 326.8 317.7 327.1 322.1 333.5 312.4 327.7 325.5 328.9 323.8 322.8 325.3 327.2 305.3 326.2 350.2 327.1 314.0 333.0 322.7 329.9 327.6 326.2 329.2 323.0 325.6 324.3 345.5 331.9 341.4 330.3 336.9 324.2 294.5 334.2 322.6 328.2 312.4 330.9 321.8 329.5 325.2 320.2 324.6 330.1 305.4 322.5 321.9 317.2 327.1 331.6 311.2 332.4 336.6 319.4 306.8 326.9 322.2 321.3 306.0 326.5 326.8 327.6 334.7 330.3 326.1 325.9 302.8 324.6 323.7 322.7 324.9 324.4 320.3 335.5 320.6 327.4 335.5 329.0 328.5 321.1 309.7 331.8 313.5 325.4 346.8 325.6 335.6 328.2 319.1 328.5 316.8 322.2 333.1 326.9 339.9 328.2 314.0 330.6 314.9 327.8 290.9 329.3 316.0 320.8 338.8 329.4 319.0 326.2 313.9 326.1 326.2 326.1 324.0 333.8 323.4 330.0 334.6 327.0 326.9 328.4 312.3 326.5 329.6 325.1 308.1 318.0 318.5 335.4 322.4 322.8 329.6 329.2 321.5 321.0 317.3 332.5 318.4 334.9 324.7 326.0 320.3 333.7 295.7 324.1 302.5 327.9 328.6 327.5 307.4 328.7 294.4 331.6 311.9 334.3 311.3 334.2 335.7 328.6 287.5 326.2 327.8 323.6 334.9 323.6 311.0 323.5 316.2 331.8 302.5 326.4 324.1 326.6 326.2 321.8 338.2 330.5 340.4 332.1 335.2 325.6 328.3 323.4 326.6 322.5 334.3 332.6 308.3 325.5 311.8 319.2 317.5 319.4 304.3 322.3 322.4 330.5 327.3 323.9 328.4 334.0 298.6 335.5 330.0 326.4 318.2 324.4 322.6 327.2 316.4 320.3 319.1 325.9 343.1 326.4 332.6 325.7 310.8 330.1 307.8 326.9 320.6 325.0 320.1 322.3 339.0 322.2 298.4 323.1 324.7 330.6 312.4 328.7 300.6 331.1 324.8 326.0 316.8 332.8 319.5 324.5 333.8 321.3 305.5 330.9 308.0 320.3 297.8 327.0 316.6 322.2 322.7 327.0 287.1 324.9 326.2 328.1 325.2 335.7 313.7 326.1 302.6 331.2 337.0 325.2 322.4 333.0 318.8 334.2 337.6 326.3 311.6 324.0 304.2 335.4 313.6 323.4 301.9 324.1 329.1 328.1 326.4 330.0 336.8 323.7 335.2 323.4 311.5 334.9 332.4 323.9 326.1 319.1 308.1 323.5 295.3 329.5 300.1 326.3 337.9 329.6 308.3 324.9 324.2 320.7 326.0 329.2 338.5 327.5 320.7 319.0 322.5 331.4 320.7 326.3 312.0 323.9 320.2 320.5 328.4 325.6 325.7 325.7 318.1 331.8 321.5 322.3 346.3 329.2 316.2 323.9 317.4 332.9 306.8 326.4 318.1 329.6 334.6 327.4 324.2 328.6 308.4 326.7 301.7 327.9 318.9 327.7 309.7 325.8 306.5 326.9 315.4 326.9 324.0 321.8 308.0 327.2 291.5 328.3 332.4 327.8 318.3 329.0 320.6 331.9 319.0 332.3 343.6 330.1 320.9 321.5 310.9 322.1 317.4 331.4 295.5 328.7 294.4 324.9 328.8 324.5 337.4 327.8 315.7 326.9 317.3 328.4 300.7 326.4 308.4 327.5 308.0 327.4 345.5 336.1 314.1 327.4 329.4 324.8 319.8 324.3 329.6 322.6 319.1 333.8 325.4 327.3 326.9 319.7 337.8 321.6 302.1 331.0 309.8 329.3 312.3 325.2 325.6 328.8 313.0 327.4 322.4 331.8 309.4 326.9 331.8 330.3 312.0 332.0 313.7 322.6 299.0 327.4 331.3 329.4 321.8 319.3 323.3 320.1 322.8 327.1 326.0 322.3 306.9 321.9 313.4 322.2 323.0 327.1 330.4 331.3 312.6 331.4 328.3 319.9 339.2 322.7 317.9 333.4 312.3 331.7 310.3 324.5 335.8 325.8 334.6 334.0 329.0 329.8 310.5 324.2 321.6 329.5 299.2 325.0 319.8 331.2 317.5 322.5 320.7 323.3 310.0 325.0 310.3 333.1 312.6 331.6 312.6 326.3 310.0 326.2 309.9 326.4 308.3 323.3 297.2 325.7 323.2 322.3 322.4 327.7 309.7 321.5 321.6 326.4 306.9 331.0 313.0 323.6 329.4 324.5 323.1 331.0 335.5 329.3 330.9 328.6 320.6 325.7 292.4 322.4 323.9 330.9 301.2 331.0 314.3 334.4 309.7 332.4 300.3 327.9 301.7 333.6 296.4 330.2 328.5 323.6 318.0 331.8 331.7 328.6 291.5 324.5 323.3 331.8 307.9 327.0 306.2 330.0 325.6 325.2 296.9 326.9 323.9 326.9 328.5 323.9 328.7 330.1 317.4 326.5 309.1 324.9 306.8 332.4 320.8 321.1 315.8 333.1 341.4 332.7 300.4 330.3 299.7 321.1 322.7 320.8 321.7 323.9 303.5 331.5 321.0 331.5 326.0 321.9 308.8 331.8 334.9 325.0 349.8 329.8 343.6 329.7 338.9 324.5 318.3 319.4 322.2 321.1 323.6 324.7 304.1 325.1 310.8 321.5 341.7 322.3 335.9 333.3 332.0 324.8 307.2 320.8 300.4 320.8 310.2 327.6 331.4 320.9 331.5 328.6 305.8 319.7 320.8 319.6 328.3 330.0 306.3 332.1 320.3 328.4 327.8 323.0 317.7 322.1 326.0 323.1 337.8 331.7 308.9 326.4 317.2 333.2 325.9 327.5 322.1 326.9 324.8 321.8 339.7 322.2 297.1 331.4 337.1 327.4 308.6 322.7 324.0 324.5 331.4 323.7 324.1 324.8 314.3 322.7 336.1 318.1 329.1 322.2 312.7 331.6 298.9 331.5 311.6 330.9 330.9 331.8 313.4 328.4 309.2 327.5 313.2 331.4 303.8 326.8 316.5 320.2 303.1 329.2 298.5 326.1 343.1 329.0 331.9 317.6 312.6 320.0 308.2 327.7 305.1 331.1 303.4 327.3 311.0 322.0 300.9 324.0 338.3 320.8 324.2 322.8 312.0 328.5 316.6 328.5 315.7 327.5 297.3 324.5 312.5 319.5 322.8 327.7 301.4 326.0 323.2 324.0 324.8 329.4 300.5 336.9 308.0 331.3 329.3 339.1 328.3 342.1 309.1 331.4 318.4 337.2 327.8 341.1 324.8 335.2 308.0 334.9 307.6 327.5 314.0 337.1 339.1 327.3 308.1 334.9 333.1 341.5 330.6 330.8 328.5 332.9 314.7 343.7 318.2 333.4 315.1 339.4 316.1 333.9 322.0 335.4 322.1 335.9 321.8 327.0 333.8 331.8 318.6 327.4 314.4 330.5 321.1 329.4 319.7 343.7 309.1 325.6 334.8 343.2 302.1 340.2 346.1 336.3 316.6 329.2 301.6 335.7 315.1 326.7 327.4 334.1 312.6 338.4 300.5 335.2 311.9 331.6 311.8 340.2 337.5 325.7 328.7 337.3 320.3 342.3 343.9 322.1 322.4 338.3 318.4 325.5 318.0 324.0 321.1 339.5 342.5 330.3 325.8 335.7 319.1 342.7 312.3 337.5 339.3 338.5 302.1 332.9 330.1 334.5 313.9 331.1 310.7 341.2 313.8 339.0 328.4 342.8 345.2 331.6 305.7 334.7 342.0 338.7 319.3 346.8 323.6 334.6 349.5 329.8 320.3 342.1 320.2 335.0 323.9 331.1 314.7 345.2 324.5 322.2 323.8 328.5 310.9 346.0 332.2 337.1 321.6 326.6 317.1 337.9 328.8 321.1 314.8 331.6 327.6 328.2 319.5 322.4 306.5 335.4 325.6 335.4 317.7 324.3 312.8 332.6 316.6 331.2 329.7 330.7 318.7 336.2 330.6 341.5 303.6 341.6 325.7 338.4 330.0 329.2 321.4 370.6 322.0 368.0 323.0" marker-start="url(#mg)" marker-mid="url(#mg)" marker-end="url(#mg)"/>
<path d="M431.0 341.5 419.8 337.1 429.0 348.5 424.3 340.9 441.4 342.7 434.0 325.1 424.4 320.9 442.0 338.9 434.4 342.0 442.5 334.6 435.1 327.7 441.4 333.9 422.8 332.3 415.8 327.0 429.8 332.5 430.4 333.6 424.3 347.1 421.4 328.6 426.6 342.6 432.3 331.2 427.6 347.9 441.1 336.7 425.7 340.3 443.1 331.5 433.9 327.1 430.7 345.3 433.5 329.1 428.9 333.5 434.9 326.1 430.3 348.3 439.6 340.9 440.1 342.4 436.0 355.9 425.7 345.5 418.5 330.1 431.6 338.2 441.1 339.3 443.2 330.5 431.5 332.1 416.3 333.3 432.2 331.2 426.2 330.5 424.5 332.1 420.6 338.9 428.9 341.1 428.7 322.3 429.1 322.5 433.5 353.1 433.3 326.9 434.9 349.8 423.7 344.7 428.2 341.0 435.8 327.8 442.5 351.7 434.3 340.2 435.4 334.2 430.8 342.4 435.0 335.4 428.1 352.8 429.2 330.1 432.0 332.5 418.9 324.2 438.6 334.3 439.9 321.5 437.4 325.1 427.0 332.0 435.8 329.0 428.3 326.8 436.8 338.3 420.8 327.3 427.1 333.2 429.0 339.0 430.0 347.0 424.3 339.5 439.8 343.4 435.3 334.0 423.5 319.8 425.7 328.7 440.0 325.2 434.2 338.4 444.0 326.7 440.4 322.7 435.1 351.1 426.8 340.1 437.9 328.7 423.6 321.7 430.5 326.3 442.9 336.8 438.7 337.3 446.0 350.3 429.1 337.3 416.3 339.9 423.8 345.1 436.4 328.9 437.7 325.1 424.5 317.4 426.3 329.4 434.7 345.2 428.5 346.9 439.6 314.5 428.1 334.2 443.1 344.2 432.9 330.3 434.3 349.9 430.0 326.3 437.7 321.2 428.5 346.2 424.3 335.0 421.4 353.4 430.5 342.3 426.8 356.1 440.7 337.9 434.5 319.9 432.7 349.7 427.4 334.0 428.2 341.4 432.4 319.9 435.9 332.6 430.5 332.6 426.6 338.6 422.2 322.8 429.4 348.2 428.2 334.1 429.4 337.3 427.7 351.7 433.0 337.4 433.5 344.2 439.0 335.5 431.9 339.8 426.8 330.7 429.9 340.8 430.5 312.7 422.6 338.3 427.8 336.6 427.3 347.2 433.9 344.4 422.5 347.8 426.2 355.8 428.0 335.2 417.9 339.1 424.5 330.2 436.5 359.0 426.9 324.3 415.6 330.3 433.3 323.1 423.8 350.6 438.7 348.6 423.5 329.0 423.2 333.4 428.8 341.3 435.6 342.4 436.6 346.5 428.7 333.9 426.0 357.9 430.1 328.2 425.2 333.2 430.9 335.8 431.4 353.5 426.2 338.0 440.5 323.6 423.7 348.1 423.3 341.3 424.8 344.6 443.7 330.2 424.4 337.4 423.6 324.7 425.3 334.3 442.2 345.2 438.7 346.5 429.1 325.8 435.9 328.3 440.4 333.8 425.8 341.9 433.4 342.4 427.5 340.4 421.2 341.6 420.5 339.9 433.6 347.8 434.4 327.5 429.0 345.3 436.9 331.7 434.4 351.7 426.1 342.3 434.7 336.1 433.4 352.1 434.4 339.4 430.5 333.9 422.8 326.9 420.8 334.7 424.4 320.6 439.0 335.0 437.8 350.7 441.8 336.7 414.5 341.9 430.7 322.1 438.7 350.2 441.4 349.4 434.9 341.2 438.4 342.9 432.4 343.9 427.9 329.5 440.2 329.8 428.8 347.6 435.0 336.2 443.9 338.5 431.6 337.9 427.0 347.4 419.7 338.2 436.6 353.8 436.1 326.0 437.3 345.6 432.2 332.0 422.8 334.4 435.2 339.4 419.5 325.8 427.3 336.3 430.6 348.4 442.3 350.4 426.8 333.2 425.6 322.8 422.2 341.7 425.7 344.0 429.5 332.6 431.8 338.6 433.6 323.9 428.7 352.3 435.7 356.6 419.5 329.0 432.5 327.0 426.7 323.9 436.2 333.6 430.8 324.5 428.5 354.6 436.6 337.7 425.3 334.7 431.9 357.0 432.8 335.2 430.1 326.7 433.0 327.1 426.2 333.2 429.9 345.9 432.7 344.0 431.0 345.3 443.5 337.2 440.6 337.9 437.6 327.1 435.8 329.6 426.5 338.9 447.6 341.4 440.0 344.0 429.6 325.8 424.5 319.7 434.5 337.2 432.5 342.7 445.6 334.5 433.6 343.2 436.9 335.6 441.0 331.8 432.0 319.9 432.9 336.2 428.9 330.6 435.2 346.0 436.0 343.9 441.2 332.6 427.2 337.9 427.5 338.3 426.6 338.8 439.4 338.8 434.8 345.9 437.4 341.8 420.3 326.5 441.8 330.1 430.5 348.4 425.3 316.7 425.3 345.8 438.4 343.9 417.9 319.0 430.1 318.8 438.0 316.9 431.4 326.8 435.4 357.8 431.7 311.8 426.2 329.0 431.4 352.4 428.0 329.9 420.9 320.8 421.8 335.3 435.4 339.0 427.1 340.6 426.0 347.5 421.8 320.2 431.8 330.5 440.7 330.9 433.5 340.5 439.8 350.4 421.8 317.0 425.7 343.3 437.1 331.0 444.7 336.1 441.0 336.6 421.3 332.1 437.7 348.2 432.4 359.1 433.5 344.7 435.8 335.3 423.6 339.4 431.1 334.0 434.2 335.5 439.6 347.5 428.8 353.6 431.9 323.1 423.1 334.1 436.3 332.8 425.7 340.3 426.2 351.9 419.7 347.5 429.4 340.1 434.1 332.5 426.2 357.4 436.4 342.8 442.8 331.8 438.7 337.0 420.9 331.6 433.3 329.8 425.3 345.6 433.1 333.6 420.9 344.7 440.2 339.9 436.7 336.9 440.5 349.3 434.4 348.6 431.7 354.1 440.1 337.5 441.0 341.8 431.1 341.2 428.8 344.9 431.8 339.6 429.5 352.2 426.8 325.9 441.7 356.0 429.5 341.6 429.6 329.6 436.3 345.5 432.6 328.3 433.4 332.8 428.3 340.9 432.4 324.7 437.5 334.2 429.7 327.1 426.8 323.4 430.9 330.1 428.7 349.7 426.8 347.0 425.7 337.6 420.1 338.9 425.1 341.5 432.7 331.1 430.0 343.0 433.6 321.1 436.5 329.9 432.1 338.8 429.2 349.6 436.2 342.1 443.5 333.2 430.6 347.0 431.0 328.6 434.9 344.3 422.3 343.8 427.1 337.6 432.7 351.8 433.6 348.7 429.8 340.9 427.3 351.0 431.8 332.2 438.7 345.8 435.0 341.4 434.0 341.2 431.6 334.3 434.3 334.0 441.8 338.6 480.5 323.7 478.3 350.8 475.8 349.7 486.5 349.3 467.2 333.1 458.8 349.2 490.6 355.3 478.0 336.2 480.5 335.2 480.4 336.0 483.1 349.4 460.2 347.8 479.8 341.3 473.1 343.6 441.3 340.3 439.8 347.3 480.2 345.8 482.5 352.9 474.2 330.4 441.6 350.2 475.4 343.9 494.3 335.0 449.8 338.0 473.1 335.4 470.7 341.4 467.4 342.0 443.8 349.0 485.5 329.6 460.5 347.3 473.4 331.3 469.7 337.8 491.7 349.5 494.8 337.8 480.4 338.3 481.1 342.8 452.4 338.3 466.5 350.2 476.6 345.3 475.3 340.7 468.5 354.6 445.8 346.7 486.4 354.2 442.6 346.8 439.5 339.6 471.9 344.3 464.9 348.7 484.9 345.7 456.7 340.9 476.3 349.2 472.3 333.9 461.2 345.5 446.5 341.6 461.9 350.6 488.0 335.8 494.0 356.5 461.7 342.3 459.8 337.9 472.0 356.7 449.4 348.4 458.2 344.8 465.7 347.5 478.4 348.7 483.3 354.3 451.6 339.3 488.7 336.4 486.9 345.0 489.7 345.8 468.5 344.4 441.9 347.7 471.7 352.1 478.8 336.2 470.1 347.9 471.1 351.6 471.4 345.4 445.4 350.0 490.4 339.1 454.1 341.7 472.9 336.3 458.6 334.2 454.3 348.3 503.0 318.0 518.8 343.5" marker-start="url(#my)" marker-mid="url(#my)" marker-end="url(#my)"/>
<line x1="345.60" y1="374.60" x2="345.60" y2="376.80" class="tk"/>
<text x="345.60" y="382.90" class="tl" text-anchor="middle">0.004</text>
<line x1="388.00" y1="374.60" x2="388.00" y2="376.80" class="tk"/>
<text x="388.00" y="382.90" class="tl" text-anchor="middle">0.005</text>
<line x1="430.40" y1="374.60" x2="430.40" y2="376.80" class="tk"/>
<text x="430.40" y="382.90" class="tl" text-anchor="middle">0.006</text>
<line x1="472.80" y1="374.60" x2="472.80" y2="376.80" class="tk"/>
<text x="472.80" y="382.90" class="tl" text-anchor="middle">0.007</text>
<line x1="515.20" y1="374.60" x2="515.20" y2="376.80" class="tk"/>
<text x="515.20" y="382.90" class="tl" text-anchor="middle">0.008</text>
<line x1="303.00" y1="360.10" x2="305.20" y2="360.10" class="tk"/>
<text x="301.00" y="362.70" class="tl" text-anchor="end">0.50</text>
<line x1="303.00" y1="337.80" x2="305.20" y2="337.80" class="tk"/>
<text x="301.00" y="340.40" class="tl" text-anchor="end">0.55</text>
<line x1="303.00" y1="315.50" x2="305.20" y2="315.50" class="tk"/>
<text x="301.00" y="318.10" class="tl" text-anchor="end">0.60</text>
<line x1="303.00" y1="293.20" x2="305.20" y2="293.20" class="tk"/>
<text x="301.00" y="295.80" class="tl" text-anchor="end">0.65</text>
<line x1="303.00" y1="270.90" x2="305.20" y2="270.90" class="tk"/>
<text x="301.00" y="273.50" class="tl" text-anchor="end">0.70</text>
<line x1="303.00" y1="248.60" x2="305.20" y2="248.60" class="tk"/>
<text x="301.00" y="251.20" class="tl" text-anchor="end">0.75</text>
<line x1="303.00" y1="226.30" x2="305.20" y2="226.30" class="tk"/>
<text x="301.00" y="228.90" class="tl" text-anchor="end">0.80</text>
<rect x="307.90" y="216.00" width="99.10" height="37.50" rx="1.5" fill="#fff" fill-opacity="0.8" stroke="#dcdcdc" stroke-width="0.7"/>
<circle cx="316.20" cy="221.50" r="1.3" fill="none" stroke="#d63a2f" stroke-width="0.6" stroke-opacity="0.8"/>
<text x="327.70" y="224.00" class="lg">spectre-v1</text>
<circle cx="316.20" cy="230.40" r="1.3" fill="none" stroke="#18202e" stroke-width="0.6" stroke-opacity="0.8"/>
<text x="327.70" y="232.90" class="lg">evasive-spectre-nop</text>
<circle cx="316.20" cy="239.40" r="1.3" fill="none" stroke="#6aae8f" stroke-width="0.6" stroke-opacity="0.8"/>
<text x="327.70" y="241.90" class="lg">evasive-sepctre-memory</text>
<circle cx="316.20" cy="248.50" r="1.3" fill="none" stroke="#f4c65c" stroke-width="0.6" stroke-opacity="0.8"/>
<text x="327.70" y="251.00" class="lg">normal</text>
<text x="426" y="390.2" class="al" text-anchor="middle">branch miss rate</text>
<text transform="translate(285.3,293) rotate(-90)" class="al" text-anchor="middle">LLC miss rate</text>
<text x="418.6" y="409.3" class="cap" text-anchor="middle">(<tspan font-weight="bold">d</tspan>) with memory stress test</text>
</svg></body></html>
